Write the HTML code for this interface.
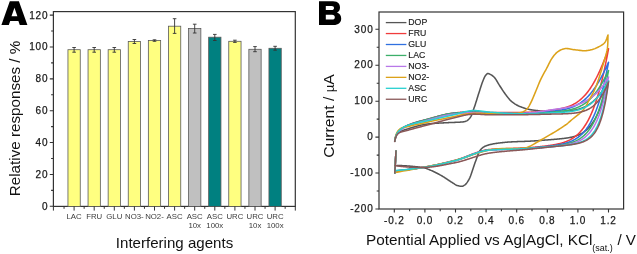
<!DOCTYPE html>
<html><head><meta charset="utf-8">
<style>
html,body{margin:0;padding:0;background:#fff;width:637px;height:254px;overflow:hidden}
svg{display:block;will-change:transform}
text{font-family:"Liberation Sans",sans-serif}
</style></head><body>
<svg width="637" height="254" viewBox="0 0 637 254">
<path d="M1.4,25 L9.8,1.2 L18.9,1.2 L27.4,25 L19.8,25 L18.4,21 L10.2,21 L8.8,25 Z M11.5,16.2 L17.4,16.2 L14.45,7.8 Z" fill="#000" fill-rule="evenodd"/>
<rect x="53.40" y="11.60" width="241.90" height="194.80" stroke="#333" stroke-width="1.2" fill="none"/>
<path d="M49.80,206.30H53.40 M49.80,174.43H53.40 M49.80,142.57H53.40 M49.80,110.70H53.40 M49.80,78.83H53.40 M49.80,46.97H53.40 M49.80,15.10H53.40 M51.10,190.37H53.40 M51.10,158.50H53.40 M51.10,126.63H53.40 M51.10,94.77H53.40 M51.10,62.90H53.40 M51.10,31.03H53.40 " stroke="#333" stroke-width="1.1"/>
<g font-size="10" fill="#1a1a1a" stroke="#1a1a1a" stroke-width="0.25" text-anchor="end">
<text transform="translate(48.2,209.70)" letter-spacing="0.75">0</text>
<text transform="translate(48.2,177.83)" letter-spacing="0.75">20</text>
<text transform="translate(48.2,145.97)" letter-spacing="0.75">40</text>
<text transform="translate(48.2,114.10)" letter-spacing="0.75">60</text>
<text transform="translate(48.2,82.23)" letter-spacing="0.75">80</text>
<text transform="translate(48.2,50.37)" letter-spacing="0.75">100</text>
<text transform="translate(48.2,18.50)" letter-spacing="0.75">120</text>
</g>
<text transform="translate(19.5,118.5) rotate(-90) scale(0.987,1)" font-size="15.4" fill="#111" text-anchor="middle">Relative responses / %</text>
<text transform="translate(174.5,247.8) scale(0.98,1)" font-size="15.4" fill="#111" text-anchor="middle">Interfering agents</text>
<g stroke="#5a5a5a" stroke-width="0.8">
<rect x="67.95" y="49.70" width="12.30" height="156.70" fill="#FFFF80"/>
<rect x="88.05" y="49.70" width="12.30" height="156.70" fill="#FFFF80"/>
<rect x="108.15" y="49.70" width="12.30" height="156.70" fill="#FFFF80"/>
<rect x="128.25" y="41.50" width="12.30" height="164.90" fill="#FFFF80"/>
<rect x="148.35" y="40.50" width="12.30" height="165.90" fill="#FFFF80"/>
<rect x="168.45" y="26.20" width="12.30" height="180.20" fill="#FFFF80"/>
<rect x="188.55" y="28.50" width="12.30" height="177.90" fill="#C0C0C0"/>
<rect x="208.65" y="37.20" width="12.30" height="169.20" fill="#008080"/>
<rect x="228.75" y="41.30" width="12.30" height="165.10" fill="#FFFF80"/>
<rect x="248.85" y="49.30" width="12.30" height="157.10" fill="#C0C0C0"/>
<rect x="268.95" y="48.30" width="12.30" height="158.10" fill="#008080"/>
</g>
<path d="M74.10,47.50V52.20 M72.30,47.50H75.90 M72.30,52.20H75.90 M94.20,47.50V52.20 M92.40,47.50H96.00 M92.40,52.20H96.00 M114.30,47.50V52.20 M112.50,47.50H116.10 M112.50,52.20H116.10 M134.40,39.50V43.50 M132.60,39.50H136.20 M132.60,43.50H136.20 M154.50,39.80V41.30 M152.70,39.80H156.30 M152.70,41.30H156.30 M174.60,18.70V33.40 M172.80,18.70H176.40 M172.80,33.40H176.40 M194.70,24.20V33.00 M192.90,24.20H196.50 M192.90,33.00H196.50 M214.80,34.40V40.50 M213.00,34.40H216.60 M213.00,40.50H216.60 M234.90,40.20V42.40 M233.10,40.20H236.70 M233.10,42.40H236.70 M255.00,46.60V51.70 M253.20,46.60H256.80 M253.20,51.70H256.80 M275.10,46.30V50.20 M273.30,46.30H276.90 M273.30,50.20H276.90 " stroke="#333" stroke-width="0.9" fill="none"/>
<path d="M74.10,206.40V210.60 M94.20,206.40V210.60 M114.30,206.40V210.60 M134.40,206.40V210.60 M154.50,206.40V210.60 M174.60,206.40V210.60 M194.70,206.40V210.60 M214.80,206.40V210.60 M234.90,206.40V210.60 M255.00,206.40V210.60 M275.10,206.40V210.60 M64.05,206.40V208.80 M84.15,206.40V208.80 M104.25,206.40V208.80 M124.35,206.40V208.80 M144.45,206.40V208.80 M164.55,206.40V208.80 M184.65,206.40V208.80 M204.75,206.40V208.80 M224.85,206.40V208.80 M244.95,206.40V208.80 M265.05,206.40V208.80 M285.15,206.40V208.80 M53.40,206.40V210.60 M295.30,206.40V210.60 " stroke="#333" stroke-width="1"/>
<g font-size="7.8" fill="#3a3a3a" text-anchor="middle">
<text x="74.10" y="218.9">LAC</text>
<text x="94.20" y="218.9">FRU</text>
<text x="114.30" y="218.9">GLU</text>
<text x="134.40" y="218.9">NO3-</text>
<text x="154.50" y="218.9">NO2-</text>
<text x="174.60" y="218.9">ASC</text>
<text x="194.70" y="218.9">ASC</text>
<text x="194.70" y="228.3">10x</text>
<text x="214.80" y="218.9">ASC</text>
<text x="214.80" y="228.3">100x</text>
<text x="234.90" y="218.9">URC</text>
<text x="255.00" y="218.9">URC</text>
<text x="255.00" y="228.3">10x</text>
<text x="275.10" y="218.9">URC</text>
<text x="275.10" y="228.3">100x</text>
</g>
<path d="M319,1.2 H333 C338.5,1.2 340,4.5 340,7.5 C340,10 338.8,11.8 337,12.6 C339.8,13.4 341.2,15.8 341.2,18.5 C341.2,22.5 338.5,25 333.5,25 H319 Z M325.8,5.9 V10.1 H331.5 C333.3,10.1 334,9.2 334,8 C334,6.8 333.3,5.9 331.5,5.9 Z M325.8,14.8 V19.6 H332 C334,19.6 334.8,18.5 334.8,17.2 C334.8,15.9 334,14.8 332,14.8 Z" fill="#000" fill-rule="evenodd"/>
<rect x="379.00" y="12.00" width="244.60" height="197.00" stroke="#333" stroke-width="1.2" fill="none"/>
<path d="M375.40,209.00H379.00 M375.40,173.06H379.00 M375.40,137.12H379.00 M375.40,101.18H379.00 M375.40,65.24H379.00 M375.40,29.30H379.00 M376.70,191.03H379.00 M376.70,155.09H379.00 M376.70,119.15H379.00 M376.70,83.21H379.00 M376.70,47.27H379.00 M394.30,209.00V212.50 M424.90,209.00V212.50 M455.50,209.00V212.50 M486.10,209.00V212.50 M516.70,209.00V212.50 M547.30,209.00V212.50 M577.90,209.00V212.50 M608.50,209.00V212.50 M409.60,209.00V211.30 M440.20,209.00V211.30 M470.80,209.00V211.30 M501.40,209.00V211.30 M532.00,209.00V211.30 M562.60,209.00V211.30 M593.20,209.00V211.30 " stroke="#333" stroke-width="1.1"/>
<g font-size="10" fill="#1a1a1a" stroke="#1a1a1a" stroke-width="0.25" text-anchor="end">
<text transform="translate(373.6,212.20)" letter-spacing="0.85">-200</text>
<text transform="translate(373.6,176.26)" letter-spacing="0.85">-100</text>
<text transform="translate(373.6,140.32)" letter-spacing="0.85">0</text>
<text transform="translate(373.6,104.38)" letter-spacing="0.85">100</text>
<text transform="translate(373.6,68.44)" letter-spacing="0.85">200</text>
<text transform="translate(373.6,32.50)" letter-spacing="0.85">300</text>
</g>
<g font-size="10" fill="#1a1a1a" stroke="#1a1a1a" stroke-width="0.25" text-anchor="middle">
<text transform="translate(394.30,223.7)" letter-spacing="0.8">-0.2</text>
<text transform="translate(424.90,223.7)" letter-spacing="0.8">0.0</text>
<text transform="translate(455.50,223.7)" letter-spacing="0.8">0.2</text>
<text transform="translate(486.10,223.7)" letter-spacing="0.8">0.4</text>
<text transform="translate(516.70,223.7)" letter-spacing="0.8">0.6</text>
<text transform="translate(547.30,223.7)" letter-spacing="0.8">0.8</text>
<text transform="translate(577.90,223.7)" letter-spacing="0.8">1.0</text>
<text transform="translate(608.50,223.7)" letter-spacing="0.8">1.2</text>
</g>
<text transform="translate(334.3,116.0) rotate(-90) scale(1.02,1)" font-size="15.4" fill="#111" text-anchor="middle">Current / <tspan font-size="13">µ</tspan>A</text>
<text transform="translate(366,244.9) scale(0.996,1)" font-size="15.4" fill="#111">Potential Applied vs Ag|AgCl, KCl</text>
<text x="592.3" y="251" font-size="9" fill="#111">(sat.)</text>
<text transform="translate(617.4,244.9) scale(0.985,1)" font-size="15.4" fill="#111">/ V</text>
<path d="M396.00,151.00L394.80,173.00M395.00,165.50L395.50,165.50L396.00,165.50L396.50,165.51L397.00,165.51L397.50,165.52L398.00,165.53L398.50,165.54L399.00,165.55L399.50,165.56L400.00,165.57L400.50,165.59L401.00,165.61L401.50,165.62L402.00,165.64L402.50,165.66L403.00,165.69L403.50,165.71L404.00,165.73L404.50,165.76L405.00,165.79L405.50,165.82L406.00,165.85L406.50,165.88L407.00,165.91L407.50,165.94L408.00,165.98L408.50,166.02L409.00,166.05L409.50,166.09L410.00,166.13L410.50,166.17L411.00,166.22L411.50,166.26L412.00,166.31L412.50,166.35L413.00,166.40L413.50,166.45L414.00,166.50L414.50,166.55L415.00,166.60L415.50,166.65L416.00,166.70L416.50,166.76L417.00,166.82L417.50,166.87L418.00,166.93L418.50,166.99L419.00,167.05L419.50,167.11L420.00,167.17L420.50,167.24L421.00,167.30L421.50,167.37L422.00,167.43L422.50,167.50L423.00,167.58L423.50,167.67L424.00,167.79L424.50,167.92L425.00,168.06L425.50,168.22L426.00,168.39L426.50,168.57L427.00,168.76L427.50,168.95L428.00,169.15L428.50,169.35L429.00,169.56L429.50,169.77L430.00,169.97L430.50,170.18L431.00,170.38L431.50,170.59L432.00,170.80L432.50,171.02L433.00,171.24L433.50,171.47L434.00,171.71L434.50,171.95L435.00,172.19L435.50,172.44L436.00,172.70L436.50,172.96L437.00,173.22L437.50,173.48L438.00,173.75L438.50,174.02L439.00,174.29L439.50,174.57L440.00,174.85L440.50,175.12L441.00,175.41L441.50,175.69L442.00,175.97L442.50,176.26L443.00,176.56L443.50,176.87L444.00,177.18L444.50,177.50L445.00,177.83L445.50,178.15L446.00,178.48L446.50,178.82L447.00,179.15L447.50,179.49L448.00,179.83L448.50,180.17L449.00,180.50L449.50,180.84L450.00,181.17L450.50,181.49L451.00,181.82L451.50,182.14L452.00,182.45L452.50,182.76L453.00,183.06L453.50,183.37L454.00,183.70L454.50,184.04L455.00,184.37L455.50,184.68L456.00,184.97L456.50,185.23L457.00,185.44L457.50,185.60L458.00,185.73L458.50,185.85L459.00,185.96L459.50,186.07L460.00,186.15L460.50,186.22L461.00,186.27L461.50,186.30L462.00,186.28L462.50,186.18L463.00,185.99L463.50,185.75L464.00,185.45L464.50,185.13L465.00,184.80L465.50,184.41L466.00,183.91L466.50,183.32L467.00,182.65L467.50,181.91L468.00,181.11L468.50,180.27L469.00,179.40L469.50,178.44L470.00,177.33L470.50,176.10L471.00,174.77L471.50,173.35L472.00,171.87L472.50,170.35L473.00,168.81L473.50,167.26L474.00,165.74L474.50,164.26L475.00,162.84L475.50,161.50L476.00,160.17L476.50,158.78L477.00,157.37L477.50,155.98L478.00,154.63L478.50,153.38L479.00,152.25L479.50,151.28L480.00,150.50L480.50,149.86L481.00,149.27L481.50,148.74L482.00,148.26L482.50,147.82L483.00,147.43L483.50,147.09L484.00,146.80L484.50,146.54L485.00,146.29L485.50,146.07L486.00,145.86L486.50,145.66L487.00,145.47L487.50,145.30L488.00,145.14L488.50,144.99L489.00,144.85L489.50,144.72L490.00,144.60L490.50,144.48L491.00,144.37L491.50,144.26L492.00,144.16L492.50,144.05L493.00,143.96L493.50,143.86L494.00,143.77L494.50,143.69L495.00,143.60L495.50,143.52L496.00,143.44L496.50,143.37L497.00,143.30L497.50,143.23L498.00,143.16L498.50,143.09L499.00,143.02L499.50,142.96L500.00,142.90L500.50,142.84L501.00,142.78L501.50,142.72L502.00,142.66L502.50,142.61L503.00,142.55L503.50,142.50L504.00,142.45L504.50,142.40L505.00,142.35L505.50,142.30L506.00,142.26L506.50,142.21L507.00,142.17L507.50,142.13L508.00,142.09L508.50,142.06L509.00,142.03L509.50,141.99L510.00,141.96L510.50,141.94L511.00,141.91L511.50,141.88L512.00,141.86L512.50,141.83L513.00,141.81L513.50,141.78L514.00,141.76L514.50,141.74L515.00,141.72L515.50,141.70L516.00,141.68L516.50,141.66L517.00,141.64L517.50,141.62L518.00,141.60L518.50,141.58L519.00,141.57L519.50,141.55L520.00,141.53L520.50,141.52L521.00,141.50L521.50,141.48L522.00,141.46L522.50,141.45L523.00,141.43L523.50,141.41L524.00,141.40L524.50,141.38L525.00,141.36L525.50,141.34L526.00,141.32L526.50,141.30L527.00,141.28L527.50,141.26L528.00,141.24L528.50,141.22L529.00,141.20L529.50,141.17L530.00,141.15L530.50,141.12L531.00,141.10L531.50,141.07L532.00,141.04L532.50,141.01L533.00,140.99L533.50,140.95L534.00,140.92L534.50,140.89L535.00,140.86L535.50,140.83L536.00,140.79L536.50,140.76L537.00,140.72L537.50,140.69L538.00,140.65L538.50,140.61L539.00,140.58L539.50,140.54L540.00,140.50L540.50,140.46L541.00,140.42L541.50,140.38L542.00,140.34L542.50,140.30L543.00,140.26L543.50,140.22L544.00,140.18L544.50,140.14L545.00,140.10L545.50,140.06L546.00,140.02L546.50,139.98L547.00,139.94L547.50,139.90L548.00,139.86L548.50,139.81L549.00,139.77L549.50,139.73L550.00,139.69L550.50,139.65L551.00,139.61L551.50,139.57L552.00,139.53L552.50,139.49L553.00,139.45L553.50,139.41L554.00,139.37L554.50,139.33L555.00,139.29L555.50,139.24L556.00,139.20L556.50,139.16L557.00,139.11L557.50,139.07L558.00,139.02L558.50,138.98L559.00,138.93L559.50,138.88L560.00,138.83L560.50,138.78L561.00,138.73L561.50,138.68L562.00,138.63L562.50,138.57L563.00,138.52L563.50,138.46L564.00,138.40L564.50,138.34L565.00,138.28L565.50,138.21L566.00,138.14L566.50,138.07L567.00,138.00L567.50,137.92L568.00,137.84L568.50,137.76L569.00,137.67L569.50,137.58L570.00,137.48L570.50,137.38L571.00,137.28L571.50,137.17L572.00,137.05L572.50,136.93L573.00,136.81L573.50,136.68L574.00,136.54L574.50,136.39L575.00,136.24L575.50,136.08L576.00,135.92L576.50,135.75L577.00,135.56L577.50,135.37L578.00,135.17L578.50,134.96L579.00,134.74L579.50,134.51L580.00,134.27L580.50,134.02L581.00,133.75L581.50,133.48L582.00,133.19L582.50,132.88L583.00,132.57L583.50,132.23L584.00,131.89L584.50,131.52L585.00,131.14L585.50,130.75L586.00,130.33L586.50,129.90L587.00,129.45L587.50,128.97L588.00,128.48L588.50,127.97L589.00,127.43L589.50,126.87L590.00,126.29L590.50,125.68L591.00,125.05L591.50,124.39L592.00,123.71L592.50,123.00L593.00,122.26L593.50,121.49L594.00,120.69L594.50,119.86L595.00,119.00L595.50,118.10L596.00,117.18L596.50,116.21L597.00,115.22L597.50,114.19L598.00,113.12L598.50,112.01L599.00,110.87L599.50,109.69L600.00,108.47L600.50,107.20L601.00,105.90L601.50,104.56L602.00,103.17L602.50,101.74L603.00,100.26L603.50,98.74L604.00,97.18L604.50,95.57L605.00,93.92L605.50,92.21L606.00,90.46L606.50,88.67L607.00,86.82L607.50,84.93L608.00,82.99L608.50,81.00M608.20,81.54L607.70,82.44L607.20,83.32L606.70,84.18L606.20,85.03L605.70,85.86L605.20,86.67L604.70,87.47L604.20,88.24L603.70,89.01L603.20,89.75L602.70,90.48L602.20,91.20L601.70,91.89L601.20,92.57L600.70,93.23L600.20,93.88L599.70,94.51L599.20,95.13L598.70,95.73L598.20,96.31L597.70,96.88L597.20,97.43L596.70,97.97L596.20,98.49L595.70,99.00L595.20,99.49L594.70,99.97L594.20,100.43L593.70,100.88L593.20,101.32L592.70,101.74L592.20,102.15L591.70,102.54L591.20,102.93L590.70,103.30L590.20,103.66L589.70,104.01L589.20,104.34L588.70,104.66L588.20,104.98L587.70,105.28L587.20,105.57L586.70,105.85L586.20,106.12L585.70,106.38L585.20,106.63L584.70,106.87L584.20,107.10L583.70,107.33L583.20,107.54L582.70,107.75L582.20,107.95L581.70,108.14L581.20,108.32L580.70,108.50L580.20,108.66L579.70,108.83L579.20,108.98L578.70,109.13L578.20,109.27L577.70,109.40L577.20,109.53L576.70,109.66L576.20,109.78L575.70,109.89L575.20,110.00L574.70,110.10L574.20,110.20L573.70,110.29L573.20,110.38L572.70,110.47L572.20,110.55L571.70,110.63L571.20,110.70L570.70,110.77L570.20,110.84L569.70,110.90L569.20,110.96L568.70,111.02L568.20,111.08L567.70,111.13L567.20,111.18L566.70,111.22L566.20,111.27L565.70,111.31L565.20,111.35L564.70,111.39L564.20,111.42L563.70,111.45L563.20,111.48L562.70,111.51L562.20,111.53L561.70,111.55L561.20,111.57L560.70,111.58L560.20,111.59L559.70,111.61L559.20,111.61L558.70,111.62L558.20,111.62L557.70,111.63L557.20,111.63L556.70,111.63L556.20,111.63L555.70,111.62L555.20,111.62L554.70,111.61L554.20,111.61L553.70,111.60L553.20,111.59L552.70,111.58L552.20,111.57L551.70,111.55L551.20,111.54L550.70,111.53L550.20,111.52L549.70,111.50L549.20,111.49L548.70,111.47L548.20,111.45L547.70,111.43L547.20,111.40L546.70,111.38L546.20,111.35L545.70,111.32L545.20,111.29L544.70,111.26L544.20,111.23L543.70,111.19L543.20,111.15L542.70,111.12L542.20,111.07L541.70,111.03L541.20,110.99L540.70,110.94L540.20,110.90L539.70,110.85L539.20,110.80L538.70,110.75L538.20,110.70L537.70,110.64L537.20,110.59L536.70,110.53L536.20,110.47L535.70,110.41L535.20,110.35L534.70,110.28L534.20,110.22L533.70,110.15L533.20,110.08L532.70,110.01L532.20,109.94L531.70,109.87L531.20,109.80L530.70,109.72L530.20,109.63L529.70,109.54L529.20,109.44L528.70,109.33L528.20,109.22L527.70,109.10L527.20,108.97L526.70,108.84L526.20,108.70L525.70,108.55L525.20,108.40L524.70,108.25L524.20,108.08L523.70,107.92L523.20,107.75L522.70,107.57L522.20,107.39L521.70,107.20L521.20,107.01L520.70,106.82L520.20,106.62L519.70,106.42L519.20,106.22L518.70,106.00L518.20,105.77L517.70,105.52L517.20,105.26L516.70,104.99L516.20,104.71L515.70,104.41L515.20,104.10L514.70,103.78L514.20,103.44L513.70,103.09L513.20,102.73L512.70,102.35L512.20,101.96L511.70,101.56L511.20,101.14L510.70,100.68L510.20,100.19L509.70,99.65L509.20,99.08L508.70,98.49L508.20,97.88L507.70,97.25L507.20,96.60L506.70,95.95L506.20,95.29L505.70,94.63L505.20,93.97L504.70,93.28L504.20,92.56L503.70,91.83L503.20,91.08L502.70,90.32L502.20,89.55L501.70,88.77L501.20,88.00L500.70,87.22L500.20,86.46L499.70,85.70L499.20,84.93L498.70,84.11L498.20,83.28L497.70,82.43L497.20,81.58L496.70,80.74L496.20,79.93L495.70,79.16L495.20,78.44L494.70,77.78L494.20,77.20L493.70,76.71L493.20,76.27L492.70,75.87L492.20,75.51L491.70,75.17L491.20,74.87L490.70,74.60L490.20,74.35L489.70,74.09L489.20,73.84L488.70,73.64L488.20,73.52L487.70,73.52L487.20,73.74L486.70,74.14L486.20,74.67L485.70,75.26L485.20,75.91L484.70,76.78L484.20,77.83L483.70,79.00L483.20,80.21L482.70,81.45L482.20,82.79L481.70,84.23L481.20,85.73L480.70,87.28L480.20,88.84L479.70,90.39L479.20,91.92L478.70,93.48L478.20,95.07L477.70,96.68L477.20,98.30L476.70,99.91L476.20,101.52L475.70,103.10L475.20,104.65L474.70,106.15L474.20,107.60L473.70,109.06L473.20,110.57L472.70,112.08L472.20,113.52L471.70,114.83L471.20,115.96L470.70,116.86L470.20,117.54L469.70,118.18L469.20,118.77L468.70,119.31L468.20,119.80L467.70,120.23L467.20,120.60L466.70,120.90L466.20,121.13L465.70,121.29L465.20,121.44L464.70,121.57L464.20,121.68L463.70,121.78L463.20,121.86L462.70,121.93L462.20,121.98L461.70,122.02L461.20,122.06L460.70,122.10L460.20,122.13L459.70,122.16L459.20,122.19L458.70,122.22L458.20,122.24L457.70,122.27L457.20,122.29L456.70,122.31L456.20,122.33L455.70,122.35L455.20,122.36L454.70,122.38L454.20,122.40L453.70,122.41L453.20,122.43L452.70,122.45L452.20,122.46L451.70,122.48L451.20,122.50L450.70,122.52L450.20,122.54L449.70,122.57L449.20,122.59L448.70,122.62L448.20,122.64L447.70,122.67L447.20,122.69L446.70,122.72L446.20,122.74L445.70,122.77L445.20,122.79L444.70,122.81L444.20,122.84L443.70,122.86L443.20,122.89L442.70,122.91L442.20,122.94L441.70,122.96L441.20,122.99L440.70,123.01L440.20,123.04L439.70,123.07L439.20,123.09L438.70,123.12L438.20,123.15L437.70,123.18L437.20,123.21L436.70,123.24L436.20,123.27L435.70,123.30L435.20,123.33L434.70,123.37L434.20,123.40L433.70,123.44L433.20,123.48L432.70,123.51L432.20,123.55L431.70,123.59L431.20,123.64L430.70,123.68L430.20,123.73L429.70,123.77L429.20,123.82L428.70,123.87L428.20,123.93L427.70,123.99L427.20,124.05L426.70,124.12L426.20,124.19L425.70,124.27L425.20,124.35L424.70,124.43L424.20,124.52L423.70,124.61L423.20,124.70L422.70,124.80L422.20,124.90L421.70,125.00L421.20,125.11L420.70,125.22L420.20,125.33L419.70,125.44L419.20,125.56L418.70,125.68L418.20,125.81L417.70,125.93L417.20,126.06L416.70,126.19L416.20,126.32L415.70,126.46L415.20,126.60L414.70,126.74L414.20,126.88L413.70,127.02L413.20,127.17L412.70,127.32L412.20,127.47L411.70,127.62L411.20,127.77L410.70,127.92L410.20,128.08L409.70,128.24L409.20,128.40L408.70,128.56L408.20,128.72L407.70,128.88L407.20,129.04L406.70,129.20L406.20,129.37L405.70,129.53L405.20,129.70L404.70,129.85L404.20,130.01L403.70,130.18L403.20,130.34L402.70,130.52L402.20,130.70L401.70,130.90L401.20,131.11L400.70,131.34L400.20,131.59L399.70,131.87L399.20,132.16L398.70,132.49L398.20,132.85L397.70,133.26L397.20,133.85L396.70,134.61L396.20,135.56L395.70,136.84L395.20,138.81L394.70,141.20" stroke="#555555" stroke-width="1.55" fill="none" stroke-linejoin="round" stroke-linecap="round"/>
<path d="M396.00,151.00L394.80,173.00M394.90,171.00L395.40,170.95L395.90,170.91L396.40,170.86L396.90,170.81L397.40,170.76L397.90,170.71L398.40,170.66L398.90,170.61L399.40,170.56L399.90,170.51L400.40,170.45L400.90,170.40L401.40,170.34L401.90,170.29L402.40,170.23L402.90,170.17L403.40,170.11L403.90,170.05L404.40,169.99L404.90,169.93L405.40,169.87L405.90,169.81L406.40,169.75L406.90,169.68L407.40,169.62L407.90,169.55L408.40,169.49L408.90,169.42L409.40,169.36L409.90,169.29L410.40,169.22L410.90,169.15L411.40,169.08L411.90,169.01L412.40,168.94L412.90,168.87L413.40,168.80L413.90,168.73L414.40,168.65L414.90,168.58L415.40,168.51L415.90,168.43L416.40,168.36L416.90,168.28L417.40,168.21L417.90,168.13L418.40,168.05L418.90,167.97L419.40,167.90L419.90,167.82L420.40,167.74L420.90,167.66L421.40,167.58L421.90,167.50L422.40,167.42L422.90,167.34L423.40,167.25L423.90,167.17L424.40,167.09L424.90,167.00L425.40,166.91L425.90,166.83L426.40,166.74L426.90,166.65L427.40,166.56L427.90,166.46L428.40,166.37L428.90,166.28L429.40,166.18L429.90,166.08L430.40,165.99L430.90,165.89L431.40,165.79L431.90,165.69L432.40,165.59L432.90,165.49L433.40,165.39L433.90,165.28L434.40,165.18L434.90,165.07L435.40,164.97L435.90,164.86L436.40,164.75L436.90,164.64L437.40,164.54L437.90,164.43L438.40,164.32L438.90,164.20L439.40,164.09L439.90,163.98L440.40,163.87L440.90,163.75L441.40,163.64L441.90,163.52L442.40,163.41L442.90,163.29L443.40,163.17L443.90,163.05L444.40,162.94L444.90,162.82L445.40,162.70L445.90,162.58L446.40,162.46L446.90,162.34L447.40,162.21L447.90,162.09L448.40,161.97L448.90,161.85L449.40,161.72L449.90,161.60L450.40,161.48L450.90,161.35L451.40,161.23L451.90,161.10L452.40,160.98L452.90,160.85L453.40,160.72L453.90,160.60L454.40,160.47L454.90,160.34L455.40,160.21L455.90,160.07L456.40,159.93L456.90,159.79L457.40,159.64L457.90,159.49L458.40,159.33L458.90,159.17L459.40,159.01L459.90,158.84L460.40,158.67L460.90,158.50L461.40,158.32L461.90,158.14L462.40,157.96L462.90,157.78L463.40,157.60L463.90,157.41L464.40,157.22L464.90,157.04L465.40,156.84L465.90,156.65L466.40,156.46L466.90,156.27L467.40,156.07L467.90,155.88L468.40,155.68L468.90,155.49L469.40,155.30L469.90,155.10L470.40,154.91L470.90,154.71L471.40,154.52L471.90,154.33L472.40,154.14L472.90,153.95L473.40,153.76L473.90,153.57L474.40,153.39L474.90,153.21L475.40,153.03L475.90,152.85L476.40,152.67L476.90,152.50L477.40,152.33L477.90,152.16L478.40,152.00L478.90,151.84L479.40,151.68L479.90,151.52L480.40,151.37L480.90,151.23L481.40,151.09L481.90,150.95L482.40,150.82L482.90,150.69L483.40,150.56L483.90,150.45L484.40,150.33L484.90,150.22L485.40,150.12L485.90,150.03L486.40,149.93L486.90,149.85L487.40,149.77L487.90,149.70L488.40,149.63L488.90,149.58L489.40,149.52L489.90,149.48L490.40,149.44L490.90,149.40L491.40,149.36L491.90,149.33L492.40,149.29L492.90,149.26L493.40,149.23L493.90,149.19L494.40,149.16L494.90,149.13L495.40,149.10L495.90,149.07L496.40,149.05L496.90,149.02L497.40,148.99L497.90,148.97L498.40,148.94L498.90,148.92L499.40,148.89L499.90,148.87L500.40,148.85L500.90,148.83L501.40,148.80L501.90,148.78L502.40,148.76L502.90,148.74L503.40,148.72L503.90,148.70L504.40,148.69L504.90,148.67L505.40,148.65L505.90,148.63L506.40,148.61L506.90,148.60L507.40,148.58L507.90,148.56L508.40,148.55L508.90,148.53L509.40,148.51L509.90,148.50L510.40,148.48L510.90,148.47L511.40,148.45L511.90,148.43L512.40,148.42L512.90,148.40L513.40,148.38L513.90,148.37L514.40,148.35L514.90,148.34L515.40,148.32L515.90,148.30L516.40,148.28L516.90,148.27L517.40,148.25L517.90,148.23L518.40,148.21L518.90,148.19L519.40,148.17L519.90,148.15L520.40,148.13L520.90,148.11L521.40,148.09L521.90,148.07L522.40,148.05L522.90,148.02L523.40,148.00L523.90,147.97L524.40,147.95L524.90,147.92L525.40,147.90L525.90,147.87L526.40,147.84L526.90,147.81L527.40,147.78L527.90,147.75L528.40,147.72L528.90,147.68L529.40,147.65L529.90,147.61L530.40,147.57L530.90,147.53L531.40,147.49L531.90,147.45L532.40,147.40L532.90,147.36L533.40,147.31L533.90,147.26L534.40,147.21L534.90,147.16L535.40,147.11L535.90,147.06L536.40,147.01L536.90,146.96L537.40,146.91L537.90,146.86L538.40,146.81L538.90,146.75L539.40,146.70L539.90,146.65L540.40,146.60L540.90,146.55L541.40,146.49L541.90,146.44L542.40,146.39L542.90,146.33L543.40,146.27L543.90,146.21L544.40,146.16L544.90,146.10L545.40,146.04L545.90,145.97L546.40,145.91L546.90,145.85L547.40,145.78L547.90,145.71L548.40,145.64L548.90,145.58L549.40,145.50L549.90,145.43L550.40,145.36L550.90,145.28L551.40,145.20L551.90,145.12L552.40,145.04L552.90,144.96L553.40,144.87L553.90,144.79L554.40,144.70L554.90,144.60L555.40,144.51L555.90,144.41L556.40,144.31L556.90,144.21L557.40,144.10L557.90,143.99L558.40,143.88L558.90,143.76L559.40,143.64L559.90,143.52L560.40,143.39L560.90,143.26L561.40,143.13L561.90,142.98L562.40,142.84L562.90,142.69L563.40,142.53L563.90,142.37L564.40,142.20L564.90,142.02L565.40,141.84L565.90,141.65L566.40,141.46L566.90,141.25L567.40,141.04L567.90,140.83L568.40,140.60L568.90,140.36L569.40,140.12L569.90,139.87L570.40,139.60L570.90,139.33L571.40,139.05L571.90,138.75L572.40,138.45L572.90,138.13L573.40,137.80L573.90,137.46L574.40,137.11L574.90,136.74L575.40,136.36L575.90,135.96L576.40,135.55L576.90,135.13L577.40,134.69L577.90,134.23L578.40,133.76L578.90,133.26L579.40,132.76L579.90,132.23L580.40,131.68L580.90,131.11L581.40,130.53L581.90,129.92L582.40,129.29L582.90,128.64L583.40,127.97L583.90,127.27L584.40,126.55L584.90,125.80L585.40,125.03L585.90,124.24L586.40,123.41L586.90,122.56L587.40,121.68L587.90,120.77L588.40,119.83L588.90,118.87L589.40,117.87L589.90,116.83L590.40,115.77L590.90,114.67L591.40,113.54L591.90,112.37L592.40,111.17L592.90,109.93L593.40,108.66L593.90,107.34L594.40,105.99L594.90,104.60L595.40,103.16L595.90,101.69L596.40,100.17L596.90,98.61L597.40,97.01L597.90,95.36L598.40,93.67L598.90,91.93L599.40,90.15L599.90,88.32L600.40,86.44L600.90,84.51L601.40,82.54L601.90,80.51L602.40,78.43L602.90,76.31L603.40,74.13L603.90,71.89L604.40,69.61L604.90,67.27L605.40,64.87L605.90,62.43L606.40,59.92L606.90,57.37L607.40,54.75L607.90,52.08L608.40,49.35L608.50,48.80M608.50,48.80L608.20,49.63L607.70,51.02L607.20,52.38L606.70,53.74L606.20,55.08L605.70,56.40L605.20,57.71L604.70,59.00L604.20,60.28L603.70,61.54L603.20,62.78L602.70,64.01L602.20,65.21L601.70,66.40L601.20,67.57L600.70,68.73L600.20,69.86L599.70,70.98L599.20,72.07L598.70,73.15L598.20,74.21L597.70,75.24L597.20,76.26L596.70,77.26L596.20,78.24L595.70,79.20L595.20,80.14L594.70,81.06L594.20,81.96L593.70,82.84L593.20,83.70L592.70,84.54L592.20,85.36L591.70,86.17L591.20,86.95L590.70,87.72L590.20,88.46L589.70,89.19L589.20,89.90L588.70,90.59L588.20,91.27L587.70,91.92L587.20,92.56L586.70,93.18L586.20,93.79L585.70,94.37L585.20,94.94L584.70,95.50L584.20,96.04L583.70,96.56L583.20,97.07L582.70,97.56L582.20,98.04L581.70,98.50L581.20,98.95L580.70,99.39L580.20,99.81L579.70,100.22L579.20,100.61L578.70,101.00L578.20,101.37L577.70,101.73L577.20,102.07L576.70,102.41L576.20,102.73L575.70,103.05L575.20,103.35L574.70,103.64L574.20,103.92L573.70,104.19L573.20,104.46L572.70,104.71L572.20,104.96L571.70,105.19L571.20,105.42L570.70,105.64L570.20,105.85L569.70,106.06L569.20,106.25L568.70,106.44L568.20,106.63L567.70,106.80L567.20,106.97L566.70,107.14L566.20,107.29L565.70,107.44L565.20,107.59L564.70,107.73L564.20,107.87L563.70,108.00L563.20,108.12L562.70,108.25L562.20,108.36L561.70,108.48L561.20,108.59L560.70,108.69L560.20,108.79L559.70,108.89L559.20,108.98L558.70,109.08L558.20,109.17L557.70,109.26L557.20,109.34L556.70,109.43L556.20,109.51L555.70,109.59L555.20,109.67L554.70,109.74L554.20,109.82L553.70,109.89L553.20,109.96L552.70,110.03L552.20,110.10L551.70,110.17L551.20,110.24L550.70,110.30L550.20,110.37L549.70,110.43L549.20,110.49L548.70,110.55L548.20,110.61L547.70,110.67L547.20,110.73L546.70,110.78L546.20,110.84L545.70,110.90L545.20,110.95L544.70,111.00L544.20,111.06L543.70,111.11L543.20,111.16L542.70,111.21L542.20,111.26L541.70,111.31L541.20,111.35L540.70,111.40L540.20,111.45L539.70,111.49L539.20,111.54L538.70,111.58L538.20,111.62L537.70,111.67L537.20,111.71L536.70,111.75L536.20,111.79L535.70,111.83L535.20,111.86L534.70,111.90L534.20,111.94L533.70,111.97L533.20,112.01L532.70,112.04L532.20,112.07L531.70,112.10L531.20,112.13L530.70,112.16L530.20,112.19L529.70,112.22L529.20,112.24L528.70,112.27L528.20,112.29L527.70,112.31L527.20,112.34L526.70,112.36L526.20,112.37L525.70,112.39L525.20,112.41L524.70,112.42L524.20,112.44L523.70,112.45L523.20,112.46L522.70,112.47L522.20,112.48L521.70,112.48L521.20,112.49L520.70,112.49L520.20,112.49L519.70,112.49L519.20,112.50L518.70,112.50L518.20,112.50L517.70,112.50L517.20,112.50L516.70,112.50L516.20,112.50L515.70,112.50L515.20,112.50L514.70,112.49L514.20,112.49L513.70,112.49L513.20,112.49L512.70,112.49L512.20,112.49L511.70,112.49L511.20,112.49L510.70,112.49L510.20,112.49L509.70,112.49L509.20,112.49L508.70,112.49L508.20,112.48L507.70,112.48L507.20,112.48L506.70,112.48L506.20,112.48L505.70,112.48L505.20,112.48L504.70,112.47L504.20,112.47L503.70,112.47L503.20,112.47L502.70,112.47L502.20,112.47L501.70,112.46L501.20,112.46L500.70,112.46L500.20,112.46L499.70,112.45L499.20,112.45L498.70,112.45L498.20,112.45L497.70,112.45L497.20,112.44L496.70,112.44L496.20,112.44L495.70,112.43L495.20,112.43L494.70,112.43L494.20,112.43L493.70,112.42L493.20,112.42L492.70,112.42L492.20,112.41L491.70,112.41L491.20,112.41L490.70,112.40L490.20,112.40L489.70,112.40L489.20,112.39L488.70,112.38L488.20,112.36L487.70,112.35L487.20,112.33L486.70,112.30L486.20,112.28L485.70,112.25L485.20,112.22L484.70,112.19L484.20,112.16L483.70,112.13L483.20,112.09L482.70,112.06L482.20,112.03L481.70,111.99L481.20,111.96L480.70,111.92L480.20,111.89L479.70,111.86L479.20,111.83L478.70,111.80L478.20,111.77L477.70,111.75L477.20,111.72L476.70,111.70L476.20,111.68L475.70,111.67L475.20,111.66L474.70,111.65L474.20,111.64L473.70,111.64L473.20,111.65L472.70,111.65L472.20,111.66L471.70,111.67L471.20,111.68L470.70,111.69L470.20,111.71L469.70,111.73L469.20,111.75L468.70,111.77L468.20,111.79L467.70,111.82L467.20,111.85L466.70,111.88L466.20,111.91L465.70,111.94L465.20,111.98L464.70,112.01L464.20,112.05L463.70,112.09L463.20,112.13L462.70,112.17L462.20,112.21L461.70,112.26L461.20,112.30L460.70,112.35L460.20,112.39L459.70,112.44L459.20,112.49L458.70,112.54L458.20,112.59L457.70,112.64L457.20,112.69L456.70,112.75L456.20,112.80L455.70,112.85L455.20,112.91L454.70,112.96L454.20,113.01L453.70,113.07L453.20,113.12L452.70,113.18L452.20,113.24L451.70,113.30L451.20,113.36L450.70,113.43L450.20,113.51L449.70,113.58L449.20,113.67L448.70,113.75L448.20,113.84L447.70,113.94L447.20,114.03L446.70,114.13L446.20,114.24L445.70,114.34L445.20,114.45L444.70,114.57L444.20,114.68L443.70,114.80L443.20,114.92L442.70,115.04L442.20,115.16L441.70,115.29L441.20,115.42L440.70,115.55L440.20,115.68L439.70,115.81L439.20,115.95L438.70,116.08L438.20,116.22L437.70,116.36L437.20,116.50L436.70,116.64L436.20,116.78L435.70,116.92L435.20,117.06L434.70,117.20L434.20,117.34L433.70,117.48L433.20,117.62L432.70,117.77L432.20,117.91L431.70,118.05L431.20,118.18L430.70,118.32L430.20,118.46L429.70,118.60L429.20,118.73L428.70,118.86L428.20,119.00L427.70,119.13L427.20,119.26L426.70,119.39L426.20,119.52L425.70,119.65L425.20,119.78L424.70,119.91L424.20,120.04L423.70,120.17L423.20,120.30L422.70,120.43L422.20,120.56L421.70,120.69L421.20,120.82L420.70,120.95L420.20,121.09L419.70,121.23L419.20,121.36L418.70,121.50L418.20,121.64L417.70,121.79L417.20,121.93L416.70,122.08L416.20,122.23L415.70,122.38L415.20,122.53L414.70,122.69L414.20,122.85L413.70,123.01L413.20,123.18L412.70,123.34L412.20,123.52L411.70,123.69L411.20,123.87L410.70,124.06L410.20,124.24L409.70,124.43L409.20,124.63L408.70,124.83L408.20,125.03L407.70,125.24L407.20,125.46L406.70,125.68L406.20,125.90L405.70,126.13L405.20,126.37L404.70,126.63L404.20,126.90L403.70,127.19L403.20,127.49L402.70,127.81L402.20,128.16L401.70,128.52L401.20,128.90L400.70,129.30L400.20,129.72L399.70,130.17L399.20,130.64L398.70,131.17L398.20,131.77L397.70,132.46L397.20,133.24L396.70,134.15L396.20,135.29L395.70,136.72L395.20,138.65L394.70,141.22" stroke="#F03C3C" stroke-width="1.55" fill="none" stroke-linejoin="round" stroke-linecap="round"/>
<path d="M396.00,151.00L394.80,173.00M394.90,171.00L395.40,170.96L395.90,170.91L396.40,170.87L396.90,170.82L397.40,170.77L397.90,170.72L398.40,170.68L398.90,170.63L399.40,170.58L399.90,170.52L400.40,170.47L400.90,170.42L401.40,170.37L401.90,170.31L402.40,170.26L402.90,170.20L403.40,170.14L403.90,170.09L404.40,170.03L404.90,169.97L405.40,169.91L405.90,169.85L406.40,169.79L406.90,169.73L407.40,169.66L407.90,169.60L408.40,169.54L408.90,169.47L409.40,169.41L409.90,169.34L410.40,169.27L410.90,169.21L411.40,169.14L411.90,169.07L412.40,169.00L412.90,168.93L413.40,168.86L413.90,168.79L414.40,168.72L414.90,168.65L415.40,168.58L415.90,168.51L416.40,168.43L416.90,168.36L417.40,168.28L417.90,168.21L418.40,168.13L418.90,168.06L419.40,167.98L419.90,167.91L420.40,167.83L420.90,167.75L421.40,167.67L421.90,167.59L422.40,167.52L422.90,167.44L423.40,167.36L423.90,167.27L424.40,167.19L424.90,167.11L425.40,167.02L425.90,166.94L426.40,166.85L426.90,166.76L427.40,166.67L427.90,166.58L428.40,166.49L428.90,166.40L429.40,166.30L429.90,166.21L430.40,166.11L430.90,166.02L431.40,165.92L431.90,165.82L432.40,165.72L432.90,165.62L433.40,165.52L433.90,165.42L434.40,165.32L434.90,165.21L435.40,165.11L435.90,165.01L436.40,164.90L436.90,164.79L437.40,164.69L437.90,164.58L438.40,164.47L438.90,164.36L439.40,164.25L439.90,164.14L440.40,164.03L440.90,163.91L441.40,163.80L441.90,163.69L442.40,163.57L442.90,163.46L443.40,163.34L443.90,163.23L444.40,163.11L444.90,162.99L445.40,162.87L445.90,162.76L446.40,162.64L446.90,162.52L447.40,162.40L447.90,162.28L448.40,162.16L448.90,162.04L449.40,161.91L449.90,161.79L450.40,161.67L450.90,161.55L451.40,161.42L451.90,161.30L452.40,161.17L452.90,161.05L453.40,160.93L453.90,160.80L454.40,160.68L454.90,160.55L455.40,160.42L455.90,160.28L456.40,160.15L456.90,160.00L457.40,159.86L457.90,159.70L458.40,159.55L458.90,159.39L459.40,159.23L459.90,159.06L460.40,158.90L460.90,158.72L461.40,158.55L461.90,158.37L462.40,158.20L462.90,158.02L463.40,157.83L463.90,157.65L464.40,157.46L464.90,157.27L465.40,157.09L465.90,156.90L466.40,156.70L466.90,156.51L467.40,156.32L467.90,156.13L468.40,155.93L468.90,155.74L469.40,155.55L469.90,155.35L470.40,155.16L470.90,154.97L471.40,154.78L471.90,154.59L472.40,154.40L472.90,154.21L473.40,154.02L473.90,153.84L474.40,153.66L474.90,153.47L475.40,153.29L475.90,153.12L476.40,152.94L476.90,152.77L477.40,152.60L477.90,152.44L478.40,152.28L478.90,152.12L479.40,151.96L479.90,151.81L480.40,151.66L480.90,151.52L481.40,151.38L481.90,151.24L482.40,151.11L482.90,150.98L483.40,150.86L483.90,150.75L484.40,150.63L484.90,150.53L485.40,150.43L485.90,150.33L486.40,150.25L486.90,150.16L487.40,150.09L487.90,150.02L488.40,149.95L488.90,149.90L489.40,149.85L489.90,149.81L490.40,149.77L490.90,149.74L491.40,149.70L491.90,149.67L492.40,149.63L492.90,149.60L493.40,149.57L493.90,149.54L494.40,149.51L494.90,149.48L495.40,149.46L495.90,149.43L496.40,149.40L496.90,149.38L497.40,149.35L497.90,149.33L498.40,149.31L498.90,149.29L499.40,149.26L499.90,149.24L500.40,149.22L500.90,149.20L501.40,149.18L501.90,149.16L502.40,149.14L502.90,149.13L503.40,149.11L503.90,149.09L504.40,149.07L504.90,149.06L505.40,149.04L505.90,149.02L506.40,149.01L506.90,148.99L507.40,148.98L507.90,148.96L508.40,148.95L508.90,148.93L509.40,148.92L509.90,148.90L510.40,148.89L510.90,148.87L511.40,148.86L511.90,148.84L512.40,148.83L512.90,148.81L513.40,148.80L513.90,148.78L514.40,148.77L514.90,148.75L515.40,148.74L515.90,148.72L516.40,148.71L516.90,148.69L517.40,148.67L517.90,148.66L518.40,148.64L518.90,148.62L519.40,148.60L519.90,148.59L520.40,148.57L520.90,148.55L521.40,148.53L521.90,148.51L522.40,148.49L522.90,148.47L523.40,148.44L523.90,148.42L524.40,148.40L524.90,148.37L525.40,148.35L525.90,148.32L526.40,148.30L526.90,148.27L527.40,148.24L527.90,148.21L528.40,148.18L528.90,148.15L529.40,148.12L529.90,148.08L530.40,148.05L530.90,148.01L531.40,147.97L531.90,147.93L532.40,147.88L532.90,147.84L533.40,147.80L533.90,147.75L534.40,147.71L534.90,147.66L535.40,147.61L535.90,147.56L536.40,147.52L536.90,147.47L537.40,147.42L537.90,147.37L538.40,147.32L538.90,147.28L539.40,147.23L539.90,147.18L540.40,147.13L540.90,147.09L541.40,147.04L541.90,146.99L542.40,146.94L542.90,146.89L543.40,146.84L543.90,146.79L544.40,146.74L544.90,146.69L545.40,146.64L545.90,146.58L546.40,146.53L546.90,146.47L547.40,146.42L547.90,146.36L548.40,146.30L548.90,146.24L549.40,146.18L549.90,146.12L550.40,146.06L550.90,146.00L551.40,145.93L551.90,145.86L552.40,145.80L552.90,145.73L553.40,145.66L553.90,145.59L554.40,145.51L554.90,145.44L555.40,145.36L555.90,145.28L556.40,145.20L556.90,145.12L557.40,145.04L557.90,144.95L558.40,144.86L558.90,144.77L559.40,144.68L559.90,144.58L560.40,144.48L560.90,144.38L561.40,144.27L561.90,144.16L562.40,144.05L562.90,143.93L563.40,143.81L563.90,143.68L564.40,143.55L564.90,143.42L565.40,143.28L565.90,143.13L566.40,142.98L566.90,142.83L567.40,142.67L567.90,142.50L568.40,142.33L568.90,142.15L569.40,141.96L569.90,141.77L570.40,141.57L570.90,141.36L571.40,141.14L571.90,140.92L572.40,140.68L572.90,140.44L573.40,140.19L573.90,139.93L574.40,139.66L574.90,139.38L575.40,139.08L575.90,138.78L576.40,138.47L576.90,138.14L577.40,137.80L577.90,137.45L578.40,137.08L578.90,136.70L579.40,136.31L579.90,135.90L580.40,135.47L580.90,135.03L581.40,134.58L581.90,134.10L582.40,133.61L582.90,133.10L583.40,132.57L583.90,132.02L584.40,131.45L584.90,130.86L585.40,130.25L585.90,129.61L586.40,128.96L586.90,128.27L587.40,127.57L587.90,126.84L588.40,126.08L588.90,125.29L589.40,124.48L589.90,123.64L590.40,122.77L590.90,121.87L591.40,120.93L591.90,119.97L592.40,118.97L592.90,117.94L593.40,116.87L593.90,115.77L594.40,114.62L594.90,113.44L595.40,112.23L595.90,110.97L596.40,109.67L596.90,108.32L597.40,106.94L597.90,105.51L598.40,104.03L598.90,102.50L599.40,100.93L599.90,99.31L600.40,97.64L600.90,95.91L601.40,94.13L601.90,92.30L602.40,90.41L602.90,88.47L603.40,86.47L603.90,84.40L604.40,82.28L604.90,80.09L605.40,77.84L605.90,75.53L606.40,73.15L606.90,70.70L607.40,68.19L607.90,65.60L608.40,62.94L608.50,62.40M608.50,62.40L608.20,63.06L607.70,64.16L607.20,65.25L606.70,66.33L606.20,67.39L605.70,68.45L605.20,69.49L604.70,70.52L604.20,71.53L603.70,72.54L603.20,73.53L602.70,74.50L602.20,75.46L601.70,76.41L601.20,77.34L600.70,78.26L600.20,79.16L599.70,80.05L599.20,80.92L598.70,81.78L598.20,82.62L597.70,83.45L597.20,84.26L596.70,85.05L596.20,85.83L595.70,86.59L595.20,87.34L594.70,88.07L594.20,88.79L593.70,89.49L593.20,90.18L592.70,90.85L592.20,91.50L591.70,92.14L591.20,92.77L590.70,93.38L590.20,93.97L589.70,94.55L589.20,95.12L588.70,95.67L588.20,96.21L587.70,96.73L587.20,97.24L586.70,97.73L586.20,98.21L585.70,98.68L585.20,99.14L584.70,99.58L584.20,100.01L583.70,100.43L583.20,100.83L582.70,101.23L582.20,101.61L581.70,101.98L581.20,102.34L580.70,102.68L580.20,103.02L579.70,103.35L579.20,103.66L578.70,103.97L578.20,104.26L577.70,104.55L577.20,104.83L576.70,105.10L576.20,105.35L575.70,105.60L575.20,105.85L574.70,106.08L574.20,106.31L573.70,106.52L573.20,106.73L572.70,106.94L572.20,107.13L571.70,107.32L571.20,107.51L570.70,107.68L570.20,107.85L569.70,108.02L569.20,108.17L568.70,108.33L568.20,108.47L567.70,108.61L567.20,108.75L566.70,108.88L566.20,109.01L565.70,109.13L565.20,109.25L564.70,109.36L564.20,109.47L563.70,109.58L563.20,109.68L562.70,109.78L562.20,109.87L561.70,109.96L561.20,110.05L560.70,110.14L560.20,110.22L559.70,110.30L559.20,110.38L558.70,110.45L558.20,110.52L557.70,110.60L557.20,110.67L556.70,110.74L556.20,110.80L555.70,110.87L555.20,110.93L554.70,111.00L554.20,111.06L553.70,111.12L553.20,111.18L552.70,111.24L552.20,111.30L551.70,111.35L551.20,111.41L550.70,111.46L550.20,111.52L549.70,111.57L549.20,111.62L548.70,111.67L548.20,111.73L547.70,111.78L547.20,111.82L546.70,111.87L546.20,111.92L545.70,111.97L545.20,112.01L544.70,112.06L544.20,112.11L543.70,112.15L543.20,112.19L542.70,112.24L542.20,112.28L541.70,112.32L541.20,112.36L540.70,112.40L540.20,112.44L539.70,112.48L539.20,112.52L538.70,112.56L538.20,112.60L537.70,112.63L537.20,112.67L536.70,112.70L536.20,112.74L535.70,112.77L535.20,112.81L534.70,112.84L534.20,112.87L533.70,112.90L533.20,112.93L532.70,112.96L532.20,112.99L531.70,113.01L531.20,113.04L530.70,113.07L530.20,113.09L529.70,113.12L529.20,113.14L528.70,113.16L528.20,113.18L527.70,113.20L527.20,113.22L526.70,113.24L526.20,113.25L525.70,113.27L525.20,113.28L524.70,113.30L524.20,113.31L523.70,113.32L523.20,113.33L522.70,113.34L522.20,113.34L521.70,113.35L521.20,113.35L520.70,113.36L520.20,113.36L519.70,113.36L519.20,113.36L518.70,113.36L518.20,113.36L517.70,113.36L517.20,113.36L516.70,113.35L516.20,113.35L515.70,113.35L515.20,113.35L514.70,113.34L514.20,113.34L513.70,113.33L513.20,113.33L512.70,113.33L512.20,113.32L511.70,113.32L511.20,113.31L510.70,113.30L510.20,113.30L509.70,113.29L509.20,113.28L508.70,113.28L508.20,113.27L507.70,113.26L507.20,113.26L506.70,113.25L506.20,113.24L505.70,113.23L505.20,113.22L504.70,113.21L504.20,113.20L503.70,113.19L503.20,113.18L502.70,113.17L502.20,113.16L501.70,113.15L501.20,113.14L500.70,113.13L500.20,113.12L499.70,113.11L499.20,113.10L498.70,113.09L498.20,113.08L497.70,113.06L497.20,113.05L496.70,113.04L496.20,113.03L495.70,113.02L495.20,113.00L494.70,112.99L494.20,112.98L493.70,112.97L493.20,112.95L492.70,112.94L492.20,112.93L491.70,112.91L491.20,112.90L490.70,112.88L490.20,112.87L489.70,112.86L489.20,112.84L488.70,112.82L488.20,112.79L487.70,112.77L487.20,112.74L486.70,112.70L486.20,112.67L485.70,112.63L485.20,112.59L484.70,112.55L484.20,112.51L483.70,112.47L483.20,112.43L482.70,112.39L482.20,112.35L481.70,112.30L481.20,112.26L480.70,112.22L480.20,112.18L479.70,112.15L479.20,112.11L478.70,112.08L478.20,112.04L477.70,112.01L477.20,111.99L476.70,111.96L476.20,111.94L475.70,111.92L475.20,111.91L474.70,111.90L474.20,111.90L473.70,111.90L473.20,111.90L472.70,111.90L472.20,111.91L471.70,111.92L471.20,111.93L470.70,111.94L470.20,111.96L469.70,111.98L469.20,112.00L468.70,112.02L468.20,112.04L467.70,112.06L467.20,112.09L466.70,112.12L466.20,112.15L465.70,112.18L465.20,112.21L464.70,112.25L464.20,112.28L463.70,112.32L463.20,112.36L462.70,112.40L462.20,112.44L461.70,112.48L461.20,112.53L460.70,112.57L460.20,112.62L459.70,112.66L459.20,112.71L458.70,112.76L458.20,112.81L457.70,112.86L457.20,112.91L456.70,112.96L456.20,113.01L455.70,113.06L455.20,113.11L454.70,113.17L454.20,113.22L453.70,113.27L453.20,113.33L452.70,113.38L452.20,113.43L451.70,113.49L451.20,113.56L450.70,113.63L450.20,113.70L449.70,113.78L449.20,113.86L448.70,113.95L448.20,114.03L447.70,114.13L447.20,114.22L446.70,114.32L446.20,114.43L445.70,114.53L445.20,114.64L444.70,114.76L444.20,114.87L443.70,114.99L443.20,115.11L442.70,115.23L442.20,115.36L441.70,115.48L441.20,115.61L440.70,115.74L440.20,115.87L439.70,116.01L439.20,116.14L438.70,116.28L438.20,116.42L437.70,116.55L437.20,116.69L436.70,116.83L436.20,116.97L435.70,117.12L435.20,117.26L434.70,117.40L434.20,117.54L433.70,117.68L433.20,117.82L432.70,117.96L432.20,118.10L431.70,118.24L431.20,118.38L430.70,118.52L430.20,118.66L429.70,118.80L429.20,118.93L428.70,119.06L428.20,119.20L427.70,119.33L427.20,119.46L426.70,119.59L426.20,119.72L425.70,119.85L425.20,119.98L424.70,120.11L424.20,120.24L423.70,120.37L423.20,120.50L422.70,120.63L422.20,120.76L421.70,120.90L421.20,121.03L420.70,121.16L420.20,121.30L419.70,121.44L419.20,121.57L418.70,121.71L418.20,121.85L417.70,122.00L417.20,122.14L416.70,122.29L416.20,122.44L415.70,122.59L415.20,122.75L414.70,122.90L414.20,123.06L413.70,123.23L413.20,123.39L412.70,123.56L412.20,123.73L411.70,123.91L411.20,124.09L410.70,124.27L410.20,124.46L409.70,124.65L409.20,124.84L408.70,125.04L408.20,125.24L407.70,125.45L407.20,125.66L406.70,125.88L406.20,126.10L405.70,126.33L405.20,126.57L404.70,126.82L404.20,127.08L403.70,127.36L403.20,127.66L402.70,127.98L402.20,128.31L401.70,128.66L401.20,129.03L400.70,129.42L400.20,129.83L399.70,130.27L399.20,130.73L398.70,131.26L398.20,131.85L397.70,132.53L397.20,133.30L396.70,134.20L396.20,135.33L395.70,136.75L395.20,138.67L394.70,141.23" stroke="#3070E0" stroke-width="1.55" fill="none" stroke-linejoin="round" stroke-linecap="round"/>
<path d="M396.00,151.00L394.80,173.00M394.90,171.00L395.40,170.96L395.90,170.91L396.40,170.87L396.90,170.82L397.40,170.78L397.90,170.73L398.40,170.68L398.90,170.64L399.40,170.59L399.90,170.54L400.40,170.49L400.90,170.43L401.40,170.38L401.90,170.33L402.40,170.27L402.90,170.22L403.40,170.16L403.90,170.11L404.40,170.05L404.90,169.99L405.40,169.93L405.90,169.87L406.40,169.82L406.90,169.75L407.40,169.69L407.90,169.63L408.40,169.57L408.90,169.51L409.40,169.44L409.90,169.38L410.40,169.31L410.90,169.25L411.40,169.18L411.90,169.11L412.40,169.04L412.90,168.98L413.40,168.91L413.90,168.84L414.40,168.77L414.90,168.70L415.40,168.63L415.90,168.56L416.40,168.48L416.90,168.41L417.40,168.34L417.90,168.26L418.40,168.19L418.90,168.12L419.40,168.04L419.90,167.97L420.40,167.89L420.90,167.81L421.40,167.74L421.90,167.66L422.40,167.58L422.90,167.50L423.40,167.42L423.90,167.34L424.40,167.26L424.90,167.18L425.40,167.10L425.90,167.01L426.40,166.92L426.90,166.84L427.40,166.75L427.90,166.66L428.40,166.57L428.90,166.48L429.40,166.39L429.90,166.29L430.40,166.20L430.90,166.10L431.40,166.01L431.90,165.91L432.40,165.81L432.90,165.71L433.40,165.61L433.90,165.51L434.40,165.41L434.90,165.31L435.40,165.21L435.90,165.10L436.40,165.00L436.90,164.89L437.40,164.79L437.90,164.68L438.40,164.57L438.90,164.46L439.40,164.35L439.90,164.24L440.40,164.13L440.90,164.02L441.40,163.91L441.90,163.80L442.40,163.69L442.90,163.57L443.40,163.46L443.90,163.34L444.40,163.23L444.90,163.11L445.40,162.99L445.90,162.88L446.40,162.76L446.90,162.64L447.40,162.52L447.90,162.40L448.40,162.28L448.90,162.16L449.40,162.04L449.90,161.92L450.40,161.80L450.90,161.68L451.40,161.56L451.90,161.43L452.40,161.31L452.90,161.19L453.40,161.06L453.90,160.94L454.40,160.82L454.90,160.69L455.40,160.56L455.90,160.43L456.40,160.29L456.90,160.15L457.40,160.00L457.90,159.85L458.40,159.70L458.90,159.54L459.40,159.38L459.90,159.22L460.40,159.05L460.90,158.88L461.40,158.71L461.90,158.53L462.40,158.35L462.90,158.17L463.40,157.99L463.90,157.81L464.40,157.62L464.90,157.44L465.40,157.25L465.90,157.06L466.40,156.87L466.90,156.68L467.40,156.49L467.90,156.29L468.40,156.10L468.90,155.91L469.40,155.72L469.90,155.53L470.40,155.33L470.90,155.14L471.40,154.95L471.90,154.76L472.40,154.57L472.90,154.39L473.40,154.20L473.90,154.02L474.40,153.84L474.90,153.66L475.40,153.48L475.90,153.30L476.40,153.13L476.90,152.96L477.40,152.79L477.90,152.63L478.40,152.46L478.90,152.31L479.40,152.15L479.90,152.00L480.40,151.85L480.90,151.71L481.40,151.57L481.90,151.44L482.40,151.31L482.90,151.18L483.40,151.06L483.90,150.95L484.40,150.84L484.90,150.74L485.40,150.64L485.90,150.54L486.40,150.46L486.90,150.38L487.40,150.30L487.90,150.23L488.40,150.17L488.90,150.12L489.40,150.07L489.90,150.03L490.40,150.00L490.90,149.96L491.40,149.93L491.90,149.90L492.40,149.87L492.90,149.84L493.40,149.81L493.90,149.78L494.40,149.75L494.90,149.72L495.40,149.70L495.90,149.67L496.40,149.65L496.90,149.63L497.40,149.60L497.90,149.58L498.40,149.56L498.90,149.54L499.40,149.52L499.90,149.50L500.40,149.48L500.90,149.46L501.40,149.44L501.90,149.42L502.40,149.40L502.90,149.39L503.40,149.37L503.90,149.35L504.40,149.34L504.90,149.32L505.40,149.31L505.90,149.29L506.40,149.28L506.90,149.26L507.40,149.25L507.90,149.23L508.40,149.22L508.90,149.21L509.40,149.19L509.90,149.18L510.40,149.16L510.90,149.15L511.40,149.14L511.90,149.12L512.40,149.11L512.90,149.10L513.40,149.08L513.90,149.07L514.40,149.05L514.90,149.04L515.40,149.02L515.90,149.01L516.40,149.00L516.90,148.98L517.40,148.96L517.90,148.95L518.40,148.93L518.90,148.92L519.40,148.90L519.90,148.88L520.40,148.86L520.90,148.85L521.40,148.83L521.90,148.81L522.40,148.79L522.90,148.77L523.40,148.75L523.90,148.73L524.40,148.70L524.90,148.68L525.40,148.66L525.90,148.63L526.40,148.61L526.90,148.58L527.40,148.56L527.90,148.53L528.40,148.50L528.90,148.47L529.40,148.44L529.90,148.41L530.40,148.37L530.90,148.34L531.40,148.30L531.90,148.26L532.40,148.22L532.90,148.18L533.40,148.14L533.90,148.09L534.40,148.05L534.90,148.01L535.40,147.96L535.90,147.92L536.40,147.87L536.90,147.82L537.40,147.78L537.90,147.73L538.40,147.69L538.90,147.64L539.40,147.60L539.90,147.56L540.40,147.51L540.90,147.47L541.40,147.43L541.90,147.38L542.40,147.34L542.90,147.29L543.40,147.25L543.90,147.20L544.40,147.16L544.90,147.11L545.40,147.06L545.90,147.01L546.40,146.96L546.90,146.91L547.40,146.87L547.90,146.81L548.40,146.76L548.90,146.71L549.40,146.66L549.90,146.61L550.40,146.55L550.90,146.50L551.40,146.44L551.90,146.39L552.40,146.33L552.90,146.27L553.40,146.21L553.90,146.16L554.40,146.09L554.90,146.03L555.40,145.97L555.90,145.91L556.40,145.84L556.90,145.77L557.40,145.70L557.90,145.63L558.40,145.56L558.90,145.49L559.40,145.42L559.90,145.34L560.40,145.26L560.90,145.18L561.40,145.10L561.90,145.01L562.40,144.92L562.90,144.83L563.40,144.74L563.90,144.64L564.40,144.54L564.90,144.44L565.40,144.33L565.90,144.22L566.40,144.10L566.90,143.98L567.40,143.86L567.90,143.73L568.40,143.60L568.90,143.46L569.40,143.32L569.90,143.17L570.40,143.02L570.90,142.86L571.40,142.69L571.90,142.52L572.40,142.34L572.90,142.16L573.40,141.97L573.90,141.77L574.40,141.56L574.90,141.34L575.40,141.12L575.90,140.88L576.40,140.64L576.90,140.39L577.40,140.13L577.90,139.85L578.40,139.57L578.90,139.27L579.40,138.97L579.90,138.65L580.40,138.31L580.90,137.97L581.40,137.61L581.90,137.23L582.40,136.84L582.90,136.43L583.40,136.01L583.90,135.57L584.40,135.12L584.90,134.64L585.40,134.14L585.90,133.63L586.40,133.09L586.90,132.54L587.40,131.96L587.90,131.35L588.40,130.73L588.90,130.08L589.40,129.40L589.90,128.69L590.40,127.96L590.90,127.20L591.40,126.40L591.90,125.58L592.40,124.73L592.90,123.84L593.40,122.91L593.90,121.95L594.40,120.95L594.90,119.92L595.40,118.84L595.90,117.72L596.40,116.56L596.90,115.36L597.40,114.10L597.90,112.81L598.40,111.46L598.90,110.06L599.40,108.61L599.90,107.10L600.40,105.54L600.90,103.92L601.40,102.23L601.90,100.49L602.40,98.68L602.90,96.81L603.40,94.87L603.90,92.85L604.40,90.77L604.90,88.61L605.40,86.37L605.90,84.05L606.40,81.65L606.90,79.16L607.40,76.59L607.90,73.92L608.40,71.16L608.50,70.60M608.50,70.60L608.20,71.23L607.70,72.28L607.20,73.31L606.70,74.33L606.20,75.34L605.70,76.32L605.20,77.30L604.70,78.25L604.20,79.20L603.70,80.12L603.20,81.03L602.70,81.93L602.20,82.80L601.70,83.66L601.20,84.51L600.70,85.34L600.20,86.15L599.70,86.94L599.20,87.72L598.70,88.48L598.20,89.23L597.70,89.95L597.20,90.66L596.70,91.36L596.20,92.04L595.70,92.70L595.20,93.35L594.70,93.98L594.20,94.59L593.70,95.19L593.20,95.77L592.70,96.34L592.20,96.89L591.70,97.43L591.20,97.95L590.70,98.46L590.20,98.95L589.70,99.43L589.20,99.90L588.70,100.35L588.20,100.79L587.70,101.22L587.20,101.63L586.70,102.03L586.20,102.42L585.70,102.79L585.20,103.15L584.70,103.50L584.20,103.85L583.70,104.17L583.20,104.49L582.70,104.80L582.20,105.10L581.70,105.38L581.20,105.66L580.70,105.93L580.20,106.19L579.70,106.44L579.20,106.68L578.70,106.91L578.20,107.13L577.70,107.35L577.20,107.55L576.70,107.75L576.20,107.95L575.70,108.13L575.20,108.31L574.70,108.48L574.20,108.65L573.70,108.81L573.20,108.96L572.70,109.11L572.20,109.25L571.70,109.39L571.20,109.52L570.70,109.65L570.20,109.77L569.70,109.88L569.20,110.00L568.70,110.11L568.20,110.21L567.70,110.31L567.20,110.41L566.70,110.50L566.20,110.59L565.70,110.67L565.20,110.75L564.70,110.83L564.20,110.91L563.70,110.98L563.20,111.06L562.70,111.12L562.20,111.19L561.70,111.25L561.20,111.31L560.70,111.37L560.20,111.43L559.70,111.48L559.20,111.54L558.70,111.59L558.20,111.64L557.70,111.69L557.20,111.74L556.70,111.79L556.20,111.84L555.70,111.89L555.20,111.94L554.70,111.98L554.20,112.03L553.70,112.07L553.20,112.12L552.70,112.16L552.20,112.20L551.70,112.25L551.20,112.29L550.70,112.33L550.20,112.37L549.70,112.41L549.20,112.45L548.70,112.50L548.20,112.53L547.70,112.57L547.20,112.61L546.70,112.65L546.20,112.69L545.70,112.73L545.20,112.77L544.70,112.80L544.20,112.84L543.70,112.88L543.20,112.91L542.70,112.95L542.20,112.98L541.70,113.02L541.20,113.05L540.70,113.09L540.20,113.12L539.70,113.15L539.20,113.19L538.70,113.22L538.20,113.25L537.70,113.28L537.20,113.31L536.70,113.34L536.20,113.37L535.70,113.40L535.20,113.43L534.70,113.46L534.20,113.49L533.70,113.51L533.20,113.54L532.70,113.56L532.20,113.59L531.70,113.61L531.20,113.64L530.70,113.66L530.20,113.68L529.70,113.70L529.20,113.72L528.70,113.74L528.20,113.76L527.70,113.78L527.20,113.79L526.70,113.81L526.20,113.82L525.70,113.84L525.20,113.85L524.70,113.86L524.20,113.87L523.70,113.88L523.20,113.89L522.70,113.90L522.20,113.90L521.70,113.91L521.20,113.91L520.70,113.91L520.20,113.92L519.70,113.92L519.20,113.91L518.70,113.91L518.20,113.91L517.70,113.91L517.20,113.91L516.70,113.91L516.20,113.90L515.70,113.90L515.20,113.89L514.70,113.89L514.20,113.88L513.70,113.88L513.20,113.87L512.70,113.87L512.20,113.86L511.70,113.85L511.20,113.84L510.70,113.84L510.20,113.83L509.70,113.82L509.20,113.81L508.70,113.80L508.20,113.79L507.70,113.78L507.20,113.77L506.70,113.76L506.20,113.75L505.70,113.74L505.20,113.73L504.70,113.71L504.20,113.70L503.70,113.69L503.20,113.68L502.70,113.66L502.20,113.65L501.70,113.64L501.20,113.62L500.70,113.61L500.20,113.59L499.70,113.58L499.20,113.56L498.70,113.55L498.20,113.53L497.70,113.52L497.20,113.50L496.70,113.49L496.20,113.47L495.70,113.46L495.20,113.44L494.70,113.42L494.20,113.41L493.70,113.39L493.20,113.37L492.70,113.36L492.20,113.34L491.70,113.32L491.20,113.31L490.70,113.29L490.20,113.27L489.70,113.26L489.20,113.23L488.70,113.21L488.20,113.18L487.70,113.15L487.20,113.12L486.70,113.08L486.20,113.04L485.70,113.00L485.20,112.96L484.70,112.92L484.20,112.87L483.70,112.83L483.20,112.78L482.70,112.74L482.20,112.69L481.70,112.65L481.20,112.61L480.70,112.56L480.20,112.52L479.70,112.48L479.20,112.44L478.70,112.41L478.20,112.37L477.70,112.34L477.20,112.31L476.70,112.29L476.20,112.26L475.70,112.25L475.20,112.23L474.70,112.22L474.20,112.22L473.70,112.22L473.20,112.22L472.70,112.22L472.20,112.23L471.70,112.23L471.20,112.24L470.70,112.25L470.20,112.26L469.70,112.28L469.20,112.29L468.70,112.31L468.20,112.32L467.70,112.34L467.20,112.36L466.70,112.38L466.20,112.41L465.70,112.43L465.20,112.46L464.70,112.48L464.20,112.51L463.70,112.54L463.20,112.57L462.70,112.60L462.20,112.63L461.70,112.66L461.20,112.70L460.70,112.73L460.20,112.77L459.70,112.80L459.20,112.84L458.70,112.88L458.20,112.92L457.70,112.96L457.20,113.00L456.70,113.04L456.20,113.08L455.70,113.12L455.20,113.16L454.70,113.20L454.20,113.25L453.70,113.29L453.20,113.33L452.70,113.38L452.20,113.42L451.70,113.48L451.20,113.53L450.70,113.59L450.20,113.66L449.70,113.73L449.20,113.81L448.70,113.89L448.20,113.98L447.70,114.06L447.20,114.16L446.70,114.26L446.20,114.36L445.70,114.46L445.20,114.57L444.70,114.68L444.20,114.80L443.70,114.91L443.20,115.03L442.70,115.16L442.20,115.28L441.70,115.41L441.20,115.54L440.70,115.67L440.20,115.81L439.70,115.94L439.20,116.08L438.70,116.22L438.20,116.36L437.70,116.50L437.20,116.64L436.70,116.79L436.20,116.93L435.70,117.07L435.20,117.22L434.70,117.36L434.20,117.51L433.70,117.65L433.20,117.79L432.70,117.94L432.20,118.08L431.70,118.22L431.20,118.36L430.70,118.50L430.20,118.64L429.70,118.78L429.20,118.92L428.70,119.05L428.20,119.18L427.70,119.32L427.20,119.45L426.70,119.58L426.20,119.71L425.70,119.85L425.20,119.98L424.70,120.11L424.20,120.24L423.70,120.37L423.20,120.51L422.70,120.64L422.20,120.77L421.70,120.91L421.20,121.05L420.70,121.18L420.20,121.32L419.70,121.46L419.20,121.60L418.70,121.75L418.20,121.89L417.70,122.04L417.20,122.18L416.70,122.33L416.20,122.49L415.70,122.64L415.20,122.80L414.70,122.96L414.20,123.12L413.70,123.29L413.20,123.46L412.70,123.63L412.20,123.80L411.70,123.98L411.20,124.16L410.70,124.35L410.20,124.54L409.70,124.73L409.20,124.93L408.70,125.13L408.20,125.33L407.70,125.54L407.20,125.76L406.70,125.97L406.20,126.20L405.70,126.43L405.20,126.66L404.70,126.91L404.20,127.18L403.70,127.45L403.20,127.75L402.70,128.06L402.20,128.38L401.70,128.73L401.20,129.10L400.70,129.48L400.20,129.89L399.70,130.32L399.20,130.78L398.70,131.30L398.20,131.89L397.70,132.56L397.20,133.33L396.70,134.22L396.20,135.35L395.70,136.77L395.20,138.68L394.70,141.24" stroke="#3CAF6A" stroke-width="1.55" fill="none" stroke-linejoin="round" stroke-linecap="round"/>
<path d="M396.00,151.00L394.80,173.00M394.90,171.00L395.40,170.96L395.90,170.92L396.40,170.87L396.90,170.83L397.40,170.78L397.90,170.74L398.40,170.69L398.90,170.64L399.40,170.59L399.90,170.54L400.40,170.49L400.90,170.44L401.40,170.39L401.90,170.34L402.40,170.29L402.90,170.23L403.40,170.18L403.90,170.12L404.40,170.06L404.90,170.01L405.40,169.95L405.90,169.89L406.40,169.83L406.90,169.77L407.40,169.71L407.90,169.65L408.40,169.59L408.90,169.53L409.40,169.46L409.90,169.40L410.40,169.33L410.90,169.27L411.40,169.20L411.90,169.14L412.40,169.07L412.90,169.00L413.40,168.93L413.90,168.87L414.40,168.80L414.90,168.73L415.40,168.66L415.90,168.59L416.40,168.51L416.90,168.44L417.40,168.37L417.90,168.30L418.40,168.22L418.90,168.15L419.40,168.08L419.90,168.00L420.40,167.93L420.90,167.85L421.40,167.77L421.90,167.70L422.40,167.62L422.90,167.54L423.40,167.47L423.90,167.39L424.40,167.30L424.90,167.22L425.40,167.14L425.90,167.06L426.40,166.97L426.90,166.88L427.40,166.80L427.90,166.71L428.40,166.62L428.90,166.53L429.40,166.44L429.90,166.34L430.40,166.25L430.90,166.16L431.40,166.06L431.90,165.96L432.40,165.87L432.90,165.77L433.40,165.67L433.90,165.57L434.40,165.47L434.90,165.37L435.40,165.27L435.90,165.16L436.40,165.06L436.90,164.95L437.40,164.85L437.90,164.74L438.40,164.63L438.90,164.53L439.40,164.42L439.90,164.31L440.40,164.20L440.90,164.09L441.40,163.98L441.90,163.87L442.40,163.75L442.90,163.64L443.40,163.53L443.90,163.41L444.40,163.30L444.90,163.18L445.40,163.07L445.90,162.95L446.40,162.83L446.90,162.71L447.40,162.60L447.90,162.48L448.40,162.36L448.90,162.24L449.40,162.12L449.90,162.00L450.40,161.88L450.90,161.76L451.40,161.64L451.90,161.51L452.40,161.39L452.90,161.27L453.40,161.15L453.90,161.02L454.40,160.90L454.90,160.78L455.40,160.65L455.90,160.52L456.40,160.38L456.90,160.24L457.40,160.09L457.90,159.94L458.40,159.79L458.90,159.63L459.40,159.47L459.90,159.31L460.40,159.14L460.90,158.97L461.40,158.80L461.90,158.63L462.40,158.45L462.90,158.27L463.40,158.09L463.90,157.91L464.40,157.72L464.90,157.53L465.40,157.35L465.90,157.16L466.40,156.97L466.90,156.78L467.40,156.59L467.90,156.40L468.40,156.20L468.90,156.01L469.40,155.82L469.90,155.63L470.40,155.44L470.90,155.25L471.40,155.06L471.90,154.87L472.40,154.68L472.90,154.49L473.40,154.31L473.90,154.13L474.40,153.94L474.90,153.76L475.40,153.59L475.90,153.41L476.40,153.24L476.90,153.07L477.40,152.90L477.90,152.74L478.40,152.58L478.90,152.42L479.40,152.27L479.90,152.12L480.40,151.97L480.90,151.83L481.40,151.69L481.90,151.56L482.40,151.43L482.90,151.30L483.40,151.19L483.90,151.07L484.40,150.96L484.90,150.86L485.40,150.76L485.90,150.67L486.40,150.58L486.90,150.50L487.40,150.43L487.90,150.36L488.40,150.30L488.90,150.25L489.40,150.20L489.90,150.16L490.40,150.13L490.90,150.10L491.40,150.07L491.90,150.04L492.40,150.01L492.90,149.98L493.40,149.95L493.90,149.92L494.40,149.89L494.90,149.87L495.40,149.84L495.90,149.82L496.40,149.80L496.90,149.77L497.40,149.75L497.90,149.73L498.40,149.71L498.90,149.69L499.40,149.67L499.90,149.65L500.40,149.63L500.90,149.61L501.40,149.59L501.90,149.58L502.40,149.56L502.90,149.54L503.40,149.53L503.90,149.51L504.40,149.50L504.90,149.48L505.40,149.47L505.90,149.45L506.40,149.44L506.90,149.42L507.40,149.41L507.90,149.40L508.40,149.38L508.90,149.37L509.40,149.36L509.90,149.34L510.40,149.33L510.90,149.32L511.40,149.30L511.90,149.29L512.40,149.28L512.90,149.26L513.40,149.25L513.90,149.24L514.40,149.22L514.90,149.21L515.40,149.20L515.90,149.18L516.40,149.17L516.90,149.15L517.40,149.14L517.90,149.12L518.40,149.11L518.90,149.09L519.40,149.08L519.90,149.06L520.40,149.04L520.90,149.03L521.40,149.01L521.90,148.99L522.40,148.97L522.90,148.95L523.40,148.93L523.90,148.91L524.40,148.89L524.90,148.87L525.40,148.85L525.90,148.82L526.40,148.80L526.90,148.77L527.40,148.75L527.90,148.72L528.40,148.70L528.90,148.67L529.40,148.64L529.90,148.61L530.40,148.57L530.90,148.54L531.40,148.50L531.90,148.46L532.40,148.42L532.90,148.38L533.40,148.34L533.90,148.30L534.40,148.26L534.90,148.22L535.40,148.17L535.90,148.13L536.40,148.08L536.90,148.04L537.40,148.00L537.90,147.95L538.40,147.91L538.90,147.87L539.40,147.83L539.90,147.78L540.40,147.74L540.90,147.70L541.40,147.66L541.90,147.62L542.40,147.58L542.90,147.54L543.40,147.49L543.90,147.45L544.40,147.41L544.90,147.36L545.40,147.32L545.90,147.28L546.40,147.23L546.90,147.19L547.40,147.14L547.90,147.09L548.40,147.05L548.90,147.00L549.40,146.95L549.90,146.91L550.40,146.86L550.90,146.81L551.40,146.76L551.90,146.71L552.40,146.66L552.90,146.61L553.40,146.56L553.90,146.51L554.40,146.45L554.90,146.40L555.40,146.35L555.90,146.29L556.40,146.24L556.90,146.18L557.40,146.12L557.90,146.06L558.40,146.00L558.90,145.94L559.40,145.88L559.90,145.82L560.40,145.75L560.90,145.69L561.40,145.62L561.90,145.55L562.40,145.48L562.90,145.40L563.40,145.33L563.90,145.25L564.40,145.17L564.90,145.08L565.40,145.00L565.90,144.91L566.40,144.82L566.90,144.72L567.40,144.63L567.90,144.52L568.40,144.42L568.90,144.31L569.40,144.20L569.90,144.08L570.40,143.96L570.90,143.84L571.40,143.71L571.90,143.57L572.40,143.43L572.90,143.29L573.40,143.13L573.90,142.98L574.40,142.81L574.90,142.64L575.40,142.47L575.90,142.28L576.40,142.09L576.90,141.89L577.40,141.69L577.90,141.47L578.40,141.24L578.90,141.01L579.40,140.76L579.90,140.51L580.40,140.24L580.90,139.97L581.40,139.68L581.90,139.38L582.40,139.06L582.90,138.73L583.40,138.39L583.90,138.03L584.40,137.66L584.90,137.27L585.40,136.87L585.90,136.44L586.40,136.00L586.90,135.54L587.40,135.06L587.90,134.55L588.40,134.03L588.90,133.48L589.40,132.91L589.90,132.31L590.40,131.69L590.90,131.04L591.40,130.36L591.90,129.65L592.40,128.91L592.90,128.14L593.40,127.33L593.90,126.49L594.40,125.61L594.90,124.70L595.40,123.74L595.90,122.74L596.40,121.70L596.90,120.61L597.40,119.48L597.90,118.29L598.40,117.06L598.90,115.77L599.40,114.43L599.90,113.02L600.40,111.56L600.90,110.04L601.40,108.45L601.90,106.79L602.40,105.06L602.90,103.25L603.40,101.37L603.90,99.41L604.40,97.37L604.90,95.24L605.40,93.01L605.90,90.70L606.40,88.29L606.90,85.77L607.40,83.15L607.90,80.43L608.40,77.58L608.50,77.00M608.50,77.00L608.20,77.53L607.70,78.41L607.20,79.26L606.70,80.09L606.20,80.89L605.70,81.68L605.20,82.45L604.70,83.20L604.20,83.93L603.70,84.64L603.20,85.34L602.70,86.01L602.20,86.67L601.70,87.31L601.20,87.94L600.70,88.55L600.20,89.14L599.70,89.72L599.20,90.29L598.70,90.84L598.20,91.37L597.70,91.89L597.20,92.40L596.70,92.90L596.20,93.38L595.70,93.85L595.20,94.31L594.70,94.75L594.20,95.19L593.70,95.61L593.20,96.02L592.70,96.42L592.20,96.81L591.70,97.19L591.20,97.56L590.70,97.92L590.20,98.28L589.70,98.62L589.20,98.95L588.70,99.28L588.20,99.59L587.70,99.90L587.20,100.20L586.70,100.49L586.20,100.77L585.70,101.05L585.20,101.32L584.70,101.58L584.20,101.83L583.70,102.08L583.20,102.32L582.70,102.56L582.20,102.79L581.70,103.01L581.20,103.23L580.70,103.44L580.20,103.64L579.70,103.84L579.20,104.04L578.70,104.22L578.20,104.41L577.70,104.59L577.20,104.76L576.70,104.93L576.20,105.10L575.70,105.26L575.20,105.42L574.70,105.57L574.20,105.72L573.70,105.86L573.20,106.00L572.70,106.14L572.20,106.27L571.70,106.40L571.20,106.53L570.70,106.65L570.20,106.77L569.70,106.89L569.20,107.00L568.70,107.11L568.20,107.22L567.70,107.32L567.20,107.42L566.70,107.52L566.20,107.62L565.70,107.71L565.20,107.81L564.70,107.90L564.20,107.98L563.70,108.07L563.20,108.15L562.70,108.23L562.20,108.31L561.70,108.39L561.20,108.46L560.70,108.53L560.20,108.60L559.70,108.67L559.20,108.74L558.70,108.81L558.20,108.88L557.70,108.95L557.20,109.03L556.70,109.10L556.20,109.17L555.70,109.24L555.20,109.32L554.70,109.39L554.20,109.46L553.70,109.54L553.20,109.61L552.70,109.69L552.20,109.76L551.70,109.84L551.20,109.92L550.70,109.99L550.20,110.07L549.70,110.14L549.20,110.22L548.70,110.30L548.20,110.37L547.70,110.45L547.20,110.52L546.70,110.60L546.20,110.68L545.70,110.75L545.20,110.83L544.70,110.90L544.20,110.98L543.70,111.05L543.20,111.13L542.70,111.20L542.20,111.28L541.70,111.35L541.20,111.42L540.70,111.49L540.20,111.57L539.70,111.64L539.20,111.71L538.70,111.78L538.20,111.84L537.70,111.91L537.20,111.98L536.70,112.05L536.20,112.11L535.70,112.17L535.20,112.24L534.70,112.30L534.20,112.36L533.70,112.42L533.20,112.48L532.70,112.53L532.20,112.59L531.70,112.64L531.20,112.70L530.70,112.75L530.20,112.80L529.70,112.84L529.20,112.89L528.70,112.94L528.20,112.98L527.70,113.02L527.20,113.06L526.70,113.09L526.20,113.13L525.70,113.16L525.20,113.19L524.70,113.22L524.20,113.25L523.70,113.27L523.20,113.30L522.70,113.31L522.20,113.33L521.70,113.35L521.20,113.36L520.70,113.37L520.20,113.38L519.70,113.38L519.20,113.38L518.70,113.39L518.20,113.39L517.70,113.40L517.20,113.40L516.70,113.40L516.20,113.41L515.70,113.41L515.20,113.41L514.70,113.41L514.20,113.42L513.70,113.42L513.20,113.42L512.70,113.42L512.20,113.42L511.70,113.43L511.20,113.43L510.70,113.43L510.20,113.43L509.70,113.43L509.20,113.43L508.70,113.43L508.20,113.43L507.70,113.43L507.20,113.43L506.70,113.43L506.20,113.43L505.70,113.43L505.20,113.43L504.70,113.43L504.20,113.43L503.70,113.43L503.20,113.43L502.70,113.43L502.20,113.43L501.70,113.43L501.20,113.43L500.70,113.43L500.20,113.43L499.70,113.43L499.20,113.43L498.70,113.42L498.20,113.42L497.70,113.42L497.20,113.42L496.70,113.42L496.20,113.42L495.70,113.41L495.20,113.41L494.70,113.41L494.20,113.41L493.70,113.41L493.20,113.40L492.70,113.40L492.20,113.40L491.70,113.40L491.20,113.39L490.70,113.39L490.20,113.39L489.70,113.38L489.20,113.38L488.70,113.37L488.20,113.35L487.70,113.34L487.20,113.32L486.70,113.29L486.20,113.27L485.70,113.24L485.20,113.21L484.70,113.18L484.20,113.15L483.70,113.12L483.20,113.09L482.70,113.05L482.20,113.02L481.70,112.98L481.20,112.95L480.70,112.92L480.20,112.88L479.70,112.85L479.20,112.82L478.70,112.79L478.20,112.77L477.70,112.74L477.20,112.72L476.70,112.70L476.20,112.68L475.70,112.66L475.20,112.65L474.70,112.65L474.20,112.64L473.70,112.64L473.20,112.64L472.70,112.65L472.20,112.66L471.70,112.67L471.20,112.68L470.70,112.69L470.20,112.71L469.70,112.73L469.20,112.75L468.70,112.77L468.20,112.80L467.70,112.83L467.20,112.86L466.70,112.89L466.20,112.92L465.70,112.96L465.20,112.99L464.70,113.03L464.20,113.07L463.70,113.11L463.20,113.15L462.70,113.20L462.20,113.24L461.70,113.29L461.20,113.34L460.70,113.38L460.20,113.43L459.70,113.48L459.20,113.54L458.70,113.59L458.20,113.64L457.70,113.69L457.20,113.75L456.70,113.80L456.20,113.86L455.70,113.91L455.20,113.97L454.70,114.03L454.20,114.08L453.70,114.14L453.20,114.20L452.70,114.25L452.20,114.31L451.70,114.37L451.20,114.44L450.70,114.51L450.20,114.59L449.70,114.67L449.20,114.75L448.70,114.84L448.20,114.93L447.70,115.02L447.20,115.12L446.70,115.22L446.20,115.32L445.70,115.42L445.20,115.53L444.70,115.64L444.20,115.76L443.70,115.87L443.20,115.99L442.70,116.11L442.20,116.24L441.70,116.36L441.20,116.49L440.70,116.61L440.20,116.74L439.70,116.88L439.20,117.01L438.70,117.14L438.20,117.28L437.70,117.41L437.20,117.55L436.70,117.69L436.20,117.82L435.70,117.96L435.20,118.10L434.70,118.24L434.20,118.38L433.70,118.52L433.20,118.66L432.70,118.79L432.20,118.93L431.70,119.07L431.20,119.21L430.70,119.34L430.20,119.48L429.70,119.61L429.20,119.75L428.70,119.88L428.20,120.01L427.70,120.14L427.20,120.27L426.70,120.40L426.20,120.53L425.70,120.66L425.20,120.79L424.70,120.92L424.20,121.05L423.70,121.18L423.20,121.31L422.70,121.44L422.20,121.57L421.70,121.71L421.20,121.84L420.70,121.98L420.20,122.11L419.70,122.25L419.20,122.39L418.70,122.53L418.20,122.67L417.70,122.81L417.20,122.95L416.70,123.10L416.20,123.25L415.70,123.40L415.20,123.55L414.70,123.71L414.20,123.86L413.70,124.02L413.20,124.19L412.70,124.35L412.20,124.52L411.70,124.69L411.20,124.87L410.70,125.05L410.20,125.23L409.70,125.41L409.20,125.60L408.70,125.79L408.20,125.99L407.70,126.19L407.20,126.39L406.70,126.60L406.20,126.81L405.70,127.03L405.20,127.25L404.70,127.49L404.20,127.73L403.70,127.99L403.20,128.26L402.70,128.54L402.20,128.84L401.70,129.16L401.20,129.49L400.70,129.85L400.20,130.23L399.70,130.63L399.20,131.06L398.70,131.56L398.20,132.12L397.70,132.77L397.20,133.50L396.70,134.37L396.20,135.47L395.70,136.86L395.20,138.75L394.70,141.28" stroke="#B878E8" stroke-width="1.55" fill="none" stroke-linejoin="round" stroke-linecap="round"/>
<path d="M396.00,151.00L394.80,173.00M394.90,172.50L397.00,172.13L399.75,171.65L403.03,171.07L406.69,170.43L410.60,169.73L414.63,169.00L418.64,168.25L422.50,167.50L426.28,166.76L430.15,166.00L434.10,165.22L438.12,164.41L442.20,163.56L446.32,162.64L450.50,161.66L454.70,160.60L459.00,159.37L463.43,157.96L467.94,156.43L472.49,154.86L477.01,153.34L481.47,151.94L485.82,150.73L490.00,149.80L494.15,149.17L498.37,148.77L502.58,148.56L506.67,148.47L510.55,148.45L514.13,148.46L517.31,148.42L520.00,148.30L522.08,148.15L523.59,148.04L524.67,147.95L525.46,147.85L526.11,147.71L526.75,147.51L527.54,147.22L528.60,146.80L529.86,146.26L531.15,145.63L532.48,144.92L533.85,144.13L535.28,143.29L536.77,142.39L538.35,141.46L540.00,140.50L541.81,139.47L543.78,138.34L545.87,137.13L548.01,135.90L550.13,134.67L552.18,133.46L554.09,132.33L555.80,131.30L557.33,130.36L558.74,129.49L560.05,128.67L561.26,127.89L562.40,127.14L563.48,126.42L564.51,125.71L565.50,125.00L566.39,124.35L567.13,123.78L567.77,123.25L568.37,122.73L569.00,122.18L569.69,121.57L570.50,120.86L571.50,120.00L572.72,119.00L574.14,117.89L575.69,116.69L577.30,115.42L578.92,114.09L580.49,112.74L581.93,111.37L583.20,110.00L584.30,108.60L585.30,107.11L586.21,105.59L587.05,104.04L587.83,102.51L588.58,101.03L589.29,99.61L590.00,98.30L590.68,97.12L591.30,96.04L591.88,95.04L592.42,94.08L592.95,93.13L593.46,92.16L593.98,91.12L594.50,90.00L595.02,88.82L595.51,87.63L596.00,86.42L596.48,85.17L596.96,83.86L597.45,82.47L597.96,80.99L598.50,79.40L599.08,77.67L599.69,75.79L600.32,73.81L600.96,71.76L601.60,69.67L602.22,67.59L602.83,65.56L603.40,63.60L603.96,61.70L604.52,59.83L605.08,57.97L605.61,56.13L606.12,54.31L606.57,52.49L606.97,50.69L607.30,48.90L607.55,47.03L607.72,45.04L607.83,43.02L607.89,41.03L607.93,39.16L607.95,37.48L607.97,36.07L608.00,35.00M608.00,35.00L607.75,35.64L607.45,36.51L607.10,37.55L606.69,38.69L606.22,39.88L605.69,41.03L605.08,42.09L604.40,43.00L603.60,43.78L602.67,44.51L601.65,45.20L600.57,45.83L599.48,46.42L598.41,46.96L597.40,47.45L596.50,47.90L595.71,48.29L594.98,48.61L594.31,48.88L593.67,49.10L593.04,49.29L592.40,49.47L591.72,49.63L591.00,49.80L590.25,49.97L589.49,50.14L588.73,50.29L587.94,50.43L587.13,50.54L586.27,50.63L585.37,50.68L584.40,50.70L583.36,50.68L582.25,50.61L581.08,50.51L579.88,50.38L578.66,50.24L577.42,50.09L576.20,49.94L575.00,49.80L573.80,49.64L572.59,49.42L571.36,49.19L570.13,48.96L568.92,48.76L567.74,48.61L566.59,48.55L565.50,48.60L564.46,48.75L563.45,48.97L562.48,49.25L561.53,49.61L560.61,50.02L559.72,50.49L558.85,51.02L558.00,51.60L557.18,52.23L556.39,52.92L555.63,53.67L554.89,54.47L554.16,55.33L553.44,56.26L552.73,57.25L552.00,58.30L551.27,59.45L550.54,60.71L549.82,62.06L549.11,63.46L548.40,64.88L547.69,66.29L546.99,67.68L546.30,69.00L545.61,70.26L544.93,71.49L544.25,72.70L543.58,73.90L542.91,75.10L542.26,76.31L541.62,77.54L541.00,78.80L540.40,80.08L539.84,81.37L539.29,82.67L538.75,83.99L538.21,85.32L537.66,86.68L537.10,88.08L536.50,89.50L535.87,91.00L535.21,92.60L534.53,94.25L533.84,95.92L533.16,97.56L532.48,99.13L531.82,100.59L531.20,101.90L530.62,103.07L530.08,104.15L529.56,105.14L529.06,106.06L528.54,106.90L528.01,107.68L527.43,108.41L526.80,109.10L526.14,109.73L525.48,110.30L524.80,110.80L524.09,111.24L523.33,111.64L522.50,111.99L521.60,112.31L520.60,112.60L519.55,112.84L518.48,113.02L517.36,113.15L516.16,113.25L514.86,113.32L513.41,113.38L511.80,113.43L510.00,113.50L507.94,113.57L505.63,113.63L503.13,113.69L500.50,113.73L497.81,113.77L495.12,113.79L492.50,113.80L490.00,113.80L487.65,113.75L485.39,113.63L483.18,113.48L480.97,113.33L478.74,113.21L476.42,113.16L473.99,113.22L471.40,113.40L468.74,113.71L466.10,114.10L463.41,114.57L460.61,115.11L457.64,115.73L454.42,116.42L450.89,117.18L447.00,118.00L442.42,118.96L437.06,120.09L431.25,121.34L425.27,122.63L419.43,123.91L414.04,125.10L409.39,126.16L405.80,127.00L403.32,127.62L401.68,128.07L400.71,128.39L400.23,128.62L400.05,128.81L399.99,128.99L399.87,129.21L399.50,129.50L399.00,129.84L398.58,130.19L398.24,130.54L397.94,130.91L397.69,131.28L397.46,131.67L397.23,132.07L397.00,132.50L396.77,132.95L396.56,133.41L396.37,133.90L396.20,134.39L396.04,134.90L395.89,135.43L395.74,135.96L395.60,136.50L395.46,137.09L395.32,137.74L395.19,138.42L395.06,139.10L394.95,139.75L394.85,140.34L394.77,140.83L394.70,141.20" stroke="#DCA21A" stroke-width="1.55" fill="none" stroke-linejoin="round" stroke-linecap="round"/>
<path d="M396.00,151.00L394.80,173.00M394.90,170.50L395.40,170.47L395.90,170.44L396.40,170.41L396.90,170.38L397.40,170.34L397.90,170.31L398.40,170.27L398.90,170.23L399.40,170.20L399.90,170.16L400.40,170.12L400.90,170.08L401.40,170.03L401.90,169.99L402.40,169.95L402.90,169.90L403.40,169.86L403.90,169.81L404.40,169.76L404.90,169.71L405.40,169.66L405.90,169.61L406.40,169.56L406.90,169.51L407.40,169.46L407.90,169.41L408.40,169.35L408.90,169.30L409.40,169.24L409.90,169.19L410.40,169.13L410.90,169.07L411.40,169.01L411.90,168.95L412.40,168.89L412.90,168.83L413.40,168.77L413.90,168.71L414.40,168.65L414.90,168.58L415.40,168.52L415.90,168.46L416.40,168.39L416.90,168.33L417.40,168.26L417.90,168.20L418.40,168.13L418.90,168.06L419.40,167.99L419.90,167.93L420.40,167.86L420.90,167.79L421.40,167.72L421.90,167.65L422.40,167.58L422.90,167.51L423.40,167.44L423.90,167.36L424.40,167.29L424.90,167.21L425.40,167.13L425.90,167.05L426.40,166.97L426.90,166.89L427.40,166.80L427.90,166.72L428.40,166.63L428.90,166.54L429.40,166.45L429.90,166.36L430.40,166.27L430.90,166.17L431.40,166.08L431.90,165.98L432.40,165.89L432.90,165.79L433.40,165.69L433.90,165.59L434.40,165.49L434.90,165.38L435.40,165.28L435.90,165.17L436.40,165.07L436.90,164.96L437.40,164.85L437.90,164.74L438.40,164.64L438.90,164.52L439.40,164.41L439.90,164.30L440.40,164.19L440.90,164.08L441.40,163.96L441.90,163.85L442.40,163.73L442.90,163.61L443.40,163.50L443.90,163.38L444.40,163.26L444.90,163.14L445.40,163.02L445.90,162.90L446.40,162.78L446.90,162.66L447.40,162.54L447.90,162.42L448.40,162.30L448.90,162.18L449.40,162.05L449.90,161.93L450.40,161.81L450.90,161.68L451.40,161.56L451.90,161.44L452.40,161.31L452.90,161.19L453.40,161.06L453.90,160.94L454.40,160.82L454.90,160.69L455.40,160.56L455.90,160.43L456.40,160.29L456.90,160.15L457.40,160.00L457.90,159.85L458.40,159.70L458.90,159.54L459.40,159.38L459.90,159.22L460.40,159.05L460.90,158.88L461.40,158.71L461.90,158.53L462.40,158.35L462.90,158.17L463.40,157.99L463.90,157.81L464.40,157.62L464.90,157.44L465.40,157.25L465.90,157.06L466.40,156.87L466.90,156.68L467.40,156.49L467.90,156.29L468.40,156.10L468.90,155.91L469.40,155.72L469.90,155.53L470.40,155.33L470.90,155.14L471.40,154.95L471.90,154.76L472.40,154.57L472.90,154.39L473.40,154.20L473.90,154.02L474.40,153.84L474.90,153.66L475.40,153.48L475.90,153.30L476.40,153.13L476.90,152.96L477.40,152.79L477.90,152.63L478.40,152.46L478.90,152.31L479.40,152.15L479.90,152.00L480.40,151.85L480.90,151.71L481.40,151.57L481.90,151.44L482.40,151.31L482.90,151.18L483.40,151.06L483.90,150.95L484.40,150.84L484.90,150.73L485.40,150.64L485.90,150.54L486.40,150.46L486.90,150.38L487.40,150.30L487.90,150.23L488.40,150.17L488.90,150.12L489.40,150.07L489.90,150.03L490.40,150.00L490.90,149.96L491.40,149.93L491.90,149.90L492.40,149.87L492.90,149.84L493.40,149.81L493.90,149.78L494.40,149.75L494.90,149.72L495.40,149.70L495.90,149.67L496.40,149.65L496.90,149.63L497.40,149.60L497.90,149.58L498.40,149.56L498.90,149.54L499.40,149.52L499.90,149.50L500.40,149.48L500.90,149.46L501.40,149.44L501.90,149.42L502.40,149.40L502.90,149.39L503.40,149.37L503.90,149.35L504.40,149.34L504.90,149.32L505.40,149.31L505.90,149.29L506.40,149.28L506.90,149.26L507.40,149.25L507.90,149.23L508.40,149.22L508.90,149.21L509.40,149.19L509.90,149.18L510.40,149.16L510.90,149.15L511.40,149.14L511.90,149.12L512.40,149.11L512.90,149.10L513.40,149.08L513.90,149.07L514.40,149.06L514.90,149.04L515.40,149.03L515.90,149.01L516.40,149.00L516.90,148.98L517.40,148.97L517.90,148.95L518.40,148.94L518.90,148.92L519.40,148.90L519.90,148.89L520.40,148.87L520.90,148.85L521.40,148.83L521.90,148.81L522.40,148.80L522.90,148.78L523.40,148.76L523.90,148.73L524.40,148.71L524.90,148.69L525.40,148.67L525.90,148.64L526.40,148.62L526.90,148.60L527.40,148.57L527.90,148.54L528.40,148.52L528.90,148.49L529.40,148.46L529.90,148.43L530.40,148.39L530.90,148.36L531.40,148.32L531.90,148.28L532.40,148.24L532.90,148.20L533.40,148.16L533.90,148.12L534.40,148.08L534.90,148.04L535.40,148.00L535.90,147.95L536.40,147.91L536.90,147.87L537.40,147.82L537.90,147.78L538.40,147.74L538.90,147.70L539.40,147.66L539.90,147.62L540.40,147.58L540.90,147.54L541.40,147.50L541.90,147.46L542.40,147.42L542.90,147.38L543.40,147.34L543.90,147.30L544.40,147.26L544.90,147.22L545.40,147.18L545.90,147.14L546.40,147.09L546.90,147.05L547.40,147.01L547.90,146.97L548.40,146.93L548.90,146.89L549.40,146.84L549.90,146.80L550.40,146.76L550.90,146.72L551.40,146.67L551.90,146.63L552.40,146.59L552.90,146.54L553.40,146.50L553.90,146.46L554.40,146.41L554.90,146.37L555.40,146.32L555.90,146.28L556.40,146.24L556.90,146.19L557.40,146.14L557.90,146.10L558.40,146.05L558.90,146.01L559.40,145.96L559.90,145.91L560.40,145.86L560.90,145.81L561.40,145.76L561.90,145.71L562.40,145.66L562.90,145.61L563.40,145.55L563.90,145.50L564.40,145.44L564.90,145.38L565.40,145.32L565.90,145.26L566.40,145.20L566.90,145.14L567.40,145.07L567.90,145.00L568.40,144.93L568.90,144.86L569.40,144.78L569.90,144.71L570.40,144.63L570.90,144.54L571.40,144.46L571.90,144.37L572.40,144.28L572.90,144.18L573.40,144.09L573.90,143.98L574.40,143.88L574.90,143.77L575.40,143.65L575.90,143.53L576.40,143.41L576.90,143.28L577.40,143.14L577.90,143.00L578.40,142.85L578.90,142.69L579.40,142.53L579.90,142.36L580.40,142.18L580.90,142.00L581.40,141.80L581.90,141.60L582.40,141.38L582.90,141.16L583.40,140.92L583.90,140.67L584.40,140.41L584.90,140.14L585.40,139.85L585.90,139.55L586.40,139.23L586.90,138.90L587.40,138.55L587.90,138.18L588.40,137.79L588.90,137.38L589.40,136.95L589.90,136.49L590.40,136.01L590.90,135.51L591.40,134.98L591.90,134.42L592.40,133.83L592.90,133.20L593.40,132.55L593.90,131.85L594.40,131.12L594.90,130.35L595.40,129.54L595.90,128.68L596.40,127.77L596.90,126.82L597.40,125.81L597.90,124.74L598.40,123.62L598.90,122.43L599.40,121.18L599.90,119.86L600.40,118.46L600.90,116.98L601.40,115.43L601.90,113.78L602.40,112.04L602.90,110.20L603.40,108.27L603.90,106.22L604.40,104.05L604.90,101.76L605.40,99.35L605.90,96.80L606.40,94.10L606.90,91.25L607.40,88.24L607.90,85.06L608.40,81.69L608.50,81.00M608.50,81.00L608.20,81.53L607.70,82.41L607.20,83.28L606.70,84.14L606.20,84.98L605.70,85.81L605.20,86.63L604.70,87.43L604.20,88.22L603.70,88.99L603.20,89.75L602.70,90.49L602.20,91.22L601.70,91.93L601.20,92.63L600.70,93.31L600.20,93.98L599.70,94.63L599.20,95.27L598.70,95.89L598.20,96.49L597.70,97.08L597.20,97.66L596.70,98.22L596.20,98.76L595.70,99.29L595.20,99.80L594.70,100.30L594.20,100.79L593.70,101.26L593.20,101.71L592.70,102.15L592.20,102.58L591.70,103.00L591.20,103.40L590.70,103.79L590.20,104.16L589.70,104.52L589.20,104.87L588.70,105.21L588.20,105.54L587.70,105.85L587.20,106.15L586.70,106.44L586.20,106.73L585.70,107.00L585.20,107.26L584.70,107.51L584.20,107.75L583.70,107.98L583.20,108.20L582.70,108.41L582.20,108.61L581.70,108.81L581.20,109.00L580.70,109.18L580.20,109.35L579.70,109.51L579.20,109.67L578.70,109.82L578.20,109.97L577.70,110.11L577.20,110.24L576.70,110.36L576.20,110.48L575.70,110.60L575.20,110.71L574.70,110.81L574.20,110.91L573.70,111.01L573.20,111.10L572.70,111.19L572.20,111.27L571.70,111.35L571.20,111.42L570.70,111.49L570.20,111.56L569.70,111.63L569.20,111.69L568.70,111.75L568.20,111.81L567.70,111.86L567.20,111.91L566.70,111.96L566.20,112.01L565.70,112.05L565.20,112.09L564.70,112.13L564.20,112.17L563.70,112.21L563.20,112.24L562.70,112.28L562.20,112.31L561.70,112.34L561.20,112.37L560.70,112.40L560.20,112.42L559.70,112.45L559.20,112.48L558.70,112.50L558.20,112.53L557.70,112.55L557.20,112.57L556.70,112.60L556.20,112.62L555.70,112.64L555.20,112.67L554.70,112.69L554.20,112.71L553.70,112.73L553.20,112.76L552.70,112.78L552.20,112.80L551.70,112.82L551.20,112.85L550.70,112.87L550.20,112.89L549.70,112.91L549.20,112.93L548.70,112.95L548.20,112.98L547.70,113.00L547.20,113.02L546.70,113.04L546.20,113.06L545.70,113.08L545.20,113.10L544.70,113.12L544.20,113.15L543.70,113.17L543.20,113.19L542.70,113.21L542.20,113.23L541.70,113.25L541.20,113.27L540.70,113.29L540.20,113.31L539.70,113.33L539.20,113.35L538.70,113.37L538.20,113.39L537.70,113.41L537.20,113.42L536.70,113.44L536.20,113.46L535.70,113.48L535.20,113.50L534.70,113.51L534.20,113.53L533.70,113.55L533.20,113.56L532.70,113.58L532.20,113.59L531.70,113.61L531.20,113.62L530.70,113.64L530.20,113.65L529.70,113.66L529.20,113.68L528.70,113.69L528.20,113.70L527.70,113.71L527.20,113.72L526.70,113.73L526.20,113.74L525.70,113.75L525.20,113.76L524.70,113.77L524.20,113.77L523.70,113.78L523.20,113.78L522.70,113.79L522.20,113.79L521.70,113.80L521.20,113.80L520.70,113.80L520.20,113.80L519.70,113.80L519.20,113.80L518.70,113.79L518.20,113.79L517.70,113.78L517.20,113.78L516.70,113.77L516.20,113.76L515.70,113.75L515.20,113.73L514.70,113.72L514.20,113.70L513.70,113.69L513.20,113.67L512.70,113.65L512.20,113.63L511.70,113.61L511.20,113.59L510.70,113.57L510.20,113.54L509.70,113.52L509.20,113.49L508.70,113.46L508.20,113.44L507.70,113.41L507.20,113.38L506.70,113.35L506.20,113.32L505.70,113.29L505.20,113.26L504.70,113.22L504.20,113.19L503.70,113.16L503.20,113.12L502.70,113.09L502.20,113.05L501.70,113.02L501.20,112.98L500.70,112.95L500.20,112.91L499.70,112.87L499.20,112.84L498.70,112.80L498.20,112.76L497.70,112.72L497.20,112.68L496.70,112.65L496.20,112.61L495.70,112.57L495.20,112.53L494.70,112.49L494.20,112.46L493.70,112.42L493.20,112.38L492.70,112.34L492.20,112.30L491.70,112.27L491.20,112.23L490.70,112.19L490.20,112.15L489.70,112.12L489.20,112.08L488.70,112.03L488.20,111.98L487.70,111.93L487.20,111.87L486.70,111.81L486.20,111.75L485.70,111.69L485.20,111.63L484.70,111.56L484.20,111.50L483.70,111.43L483.20,111.36L482.70,111.30L482.20,111.23L481.70,111.16L481.20,111.10L480.70,111.04L480.20,110.98L479.70,110.92L479.20,110.87L478.70,110.81L478.20,110.77L477.70,110.72L477.20,110.68L476.70,110.65L476.20,110.61L475.70,110.59L475.20,110.57L474.70,110.56L474.20,110.55L473.70,110.55L473.20,110.56L472.70,110.57L472.20,110.60L471.70,110.64L471.20,110.68L470.70,110.73L470.20,110.79L469.70,110.86L469.20,110.93L468.70,111.01L468.20,111.10L467.70,111.19L467.20,111.29L466.70,111.39L466.20,111.50L465.70,111.61L465.20,111.73L464.70,111.85L464.20,111.98L463.70,112.10L463.20,112.23L462.70,112.37L462.20,112.50L461.70,112.64L461.20,112.78L460.70,112.92L460.20,113.06L459.70,113.20L459.20,113.34L458.70,113.48L458.20,113.63L457.70,113.77L457.20,113.90L456.70,114.04L456.20,114.18L455.70,114.31L455.20,114.44L454.70,114.57L454.20,114.69L453.70,114.81L453.20,114.93L452.70,115.04L452.20,115.15L451.70,115.27L451.20,115.38L450.70,115.49L450.20,115.60L449.70,115.71L449.20,115.82L448.70,115.93L448.20,116.04L447.70,116.15L447.20,116.26L446.70,116.38L446.20,116.49L445.70,116.60L445.20,116.71L444.70,116.83L444.20,116.94L443.70,117.05L443.20,117.17L442.70,117.28L442.20,117.39L441.70,117.51L441.20,117.62L440.70,117.74L440.20,117.85L439.70,117.96L439.20,118.08L438.70,118.19L438.20,118.31L437.70,118.42L437.20,118.54L436.70,118.66L436.20,118.77L435.70,118.89L435.20,119.00L434.70,119.12L434.20,119.24L433.70,119.35L433.20,119.47L432.70,119.59L432.20,119.70L431.70,119.82L431.20,119.94L430.70,120.06L430.20,120.17L429.70,120.29L429.20,120.41L428.70,120.52L428.20,120.64L427.70,120.75L427.20,120.86L426.70,120.96L426.20,121.07L425.70,121.17L425.20,121.27L424.70,121.37L424.20,121.47L423.70,121.57L423.20,121.67L422.70,121.77L422.20,121.87L421.70,121.96L421.20,122.06L420.70,122.16L420.20,122.26L419.70,122.36L419.20,122.46L418.70,122.56L418.20,122.66L417.70,122.76L417.20,122.87L416.70,122.98L416.20,123.09L415.70,123.20L415.20,123.31L414.70,123.43L414.20,123.55L413.70,123.67L413.20,123.79L412.70,123.92L412.20,124.06L411.70,124.19L411.20,124.33L410.70,124.47L410.20,124.62L409.70,124.77L409.20,124.93L408.70,125.09L408.20,125.26L407.70,125.43L407.20,125.61L406.70,125.79L406.20,125.98L405.70,126.18L405.20,126.39L404.70,126.63L404.20,126.89L403.70,127.17L403.20,127.47L402.70,127.79L402.20,128.14L401.70,128.50L401.20,128.89L400.70,129.30L400.20,129.72L399.70,130.17L399.20,130.64L398.70,131.17L398.20,131.77L397.70,132.46L397.20,133.24L396.70,134.15L396.20,135.29L395.70,136.72L395.20,138.65L394.70,141.22" stroke="#28D0D0" stroke-width="1.55" fill="none" stroke-linejoin="round" stroke-linecap="round"/>
<path d="M396.00,151.00L394.80,173.00M394.90,165.50L395.40,165.58L395.90,165.67L396.40,165.75L396.90,165.82L397.40,165.90L397.90,165.97L398.40,166.04L398.90,166.11L399.40,166.18L399.90,166.25L400.40,166.31L400.90,166.37L401.40,166.43L401.90,166.49L402.40,166.54L402.90,166.59L403.40,166.64L403.90,166.69L404.40,166.74L404.90,166.79L405.40,166.83L405.90,166.87L406.40,166.91L406.90,166.95L407.40,166.99L407.90,167.03L408.40,167.06L408.90,167.09L409.40,167.12L409.90,167.15L410.40,167.18L410.90,167.21L411.40,167.23L411.90,167.26L412.40,167.28L412.90,167.30L413.40,167.32L413.90,167.34L414.40,167.35L414.90,167.37L415.40,167.38L415.90,167.40L416.40,167.41L416.90,167.42L417.40,167.43L417.90,167.44L418.40,167.45L418.90,167.45L419.40,167.46L419.90,167.46L420.40,167.47L420.90,167.47L421.40,167.47L421.90,167.48L422.40,167.48L422.90,167.47L423.40,167.47L423.90,167.46L424.40,167.45L424.90,167.43L425.40,167.41L425.90,167.39L426.40,167.37L426.90,167.34L427.40,167.30L427.90,167.27L428.40,167.23L428.90,167.19L429.40,167.15L429.90,167.10L430.40,167.05L430.90,167.00L431.40,166.94L431.90,166.88L432.40,166.83L432.90,166.76L433.40,166.70L433.90,166.63L434.40,166.56L434.90,166.49L435.40,166.42L435.90,166.34L436.40,166.27L436.90,166.19L437.40,166.11L437.90,166.03L438.40,165.94L438.90,165.86L439.40,165.77L439.90,165.68L440.40,165.60L440.90,165.51L441.40,165.41L441.90,165.32L442.40,165.23L442.90,165.13L443.40,165.04L443.90,164.94L444.40,164.85L444.90,164.75L445.40,164.65L445.90,164.55L446.40,164.45L446.90,164.35L447.40,164.26L447.90,164.16L448.40,164.06L448.90,163.96L449.40,163.86L449.90,163.76L450.40,163.66L450.90,163.56L451.40,163.46L451.90,163.36L452.40,163.26L452.90,163.17L453.40,163.07L453.90,162.97L454.40,162.88L454.90,162.78L455.40,162.68L455.90,162.58L456.40,162.47L456.90,162.36L457.40,162.25L457.90,162.13L458.40,162.01L458.90,161.88L459.40,161.75L459.90,161.62L460.40,161.49L460.90,161.35L461.40,161.21L461.90,161.07L462.40,160.92L462.90,160.77L463.40,160.62L463.90,160.47L464.40,160.32L464.90,160.16L465.40,160.00L465.90,159.84L466.40,159.68L466.90,159.52L467.40,159.36L467.90,159.19L468.40,159.03L468.90,158.86L469.40,158.70L469.90,158.53L470.40,158.36L470.90,158.20L471.40,158.03L471.90,157.86L472.40,157.69L472.90,157.53L473.40,157.36L473.90,157.20L474.40,157.03L474.90,156.87L475.40,156.70L475.90,156.54L476.40,156.38L476.90,156.22L477.40,156.06L477.90,155.91L478.40,155.75L478.90,155.60L479.40,155.45L479.90,155.30L480.40,155.16L480.90,155.01L481.40,154.87L481.90,154.74L482.40,154.60L482.90,154.47L483.40,154.34L483.90,154.22L484.40,154.09L484.90,153.97L485.40,153.86L485.90,153.75L486.40,153.64L486.90,153.54L487.40,153.44L487.90,153.35L488.40,153.26L488.90,153.17L489.40,153.09L489.90,153.01L490.40,152.94L490.90,152.87L491.40,152.80L491.90,152.74L492.40,152.67L492.90,152.60L493.40,152.54L493.90,152.48L494.40,152.41L494.90,152.35L495.40,152.29L495.90,152.23L496.40,152.17L496.90,152.12L497.40,152.06L497.90,152.01L498.40,151.95L498.90,151.90L499.40,151.85L499.90,151.79L500.40,151.74L500.90,151.69L501.40,151.64L501.90,151.59L502.40,151.55L502.90,151.50L503.40,151.45L503.90,151.40L504.40,151.36L504.90,151.31L505.40,151.27L505.90,151.22L506.40,151.18L506.90,151.14L507.40,151.09L507.90,151.05L508.40,151.01L508.90,150.97L509.40,150.93L509.90,150.88L510.40,150.84L510.90,150.80L511.40,150.76L511.90,150.72L512.40,150.68L512.90,150.64L513.40,150.60L513.90,150.56L514.40,150.52L514.90,150.48L515.40,150.44L515.90,150.40L516.40,150.36L516.90,150.32L517.40,150.28L517.90,150.24L518.40,150.20L518.90,150.15L519.40,150.11L519.90,150.07L520.40,150.03L520.90,149.99L521.40,149.94L521.90,149.90L522.40,149.86L522.90,149.81L523.40,149.77L523.90,149.72L524.40,149.68L524.90,149.63L525.40,149.59L525.90,149.54L526.40,149.49L526.90,149.44L527.40,149.39L527.90,149.35L528.40,149.29L528.90,149.24L529.40,149.19L529.90,149.14L530.40,149.09L530.90,149.03L531.40,148.98L531.90,148.93L532.40,148.87L532.90,148.82L533.40,148.76L533.90,148.71L534.40,148.66L534.90,148.60L535.40,148.55L535.90,148.49L536.40,148.44L536.90,148.38L537.40,148.33L537.90,148.28L538.40,148.22L538.90,148.17L539.40,148.12L539.90,148.07L540.40,148.01L540.90,147.96L541.40,147.91L541.90,147.86L542.40,147.80L542.90,147.75L543.40,147.70L543.90,147.64L544.40,147.59L544.90,147.54L545.40,147.48L545.90,147.43L546.40,147.37L546.90,147.32L547.40,147.27L547.90,147.21L548.40,147.16L548.90,147.10L549.40,147.05L549.90,147.00L550.40,146.94L550.90,146.89L551.40,146.84L551.90,146.78L552.40,146.73L552.90,146.68L553.40,146.63L553.90,146.57L554.40,146.52L554.90,146.47L555.40,146.42L555.90,146.37L556.40,146.32L556.90,146.27L557.40,146.22L557.90,146.17L558.40,146.12L558.90,146.07L559.40,146.02L559.90,145.97L560.40,145.92L560.90,145.87L561.40,145.82L561.90,145.77L562.40,145.72L562.90,145.67L563.40,145.61L563.90,145.56L564.40,145.51L564.90,145.45L565.40,145.40L565.90,145.34L566.40,145.28L566.90,145.22L567.40,145.16L567.90,145.10L568.40,145.04L568.90,144.97L569.40,144.91L569.90,144.84L570.40,144.77L570.90,144.70L571.40,144.62L571.90,144.55L572.40,144.47L572.90,144.39L573.40,144.31L573.90,144.22L574.40,144.13L574.90,144.04L575.40,143.95L575.90,143.85L576.40,143.74L576.90,143.64L577.40,143.53L577.90,143.41L578.40,143.29L578.90,143.16L579.40,143.03L579.90,142.89L580.40,142.75L580.90,142.60L581.40,142.44L581.90,142.27L582.40,142.09L582.90,141.91L583.40,141.72L583.90,141.51L584.40,141.30L584.90,141.07L585.40,140.83L585.90,140.58L586.40,140.31L586.90,140.03L587.40,139.74L587.90,139.43L588.40,139.09L588.90,138.74L589.40,138.37L589.90,137.98L590.40,137.57L590.90,137.13L591.40,136.66L591.90,136.17L592.40,135.64L592.90,135.09L593.40,134.50L593.90,133.88L594.40,133.21L594.90,132.51L595.40,131.76L595.90,130.97L596.40,130.13L596.90,129.24L597.40,128.29L597.90,127.28L598.40,126.21L598.90,125.07L599.40,123.86L599.90,122.57L600.40,121.20L600.90,119.75L601.40,118.20L601.90,116.56L602.40,114.81L602.90,112.95L603.40,110.97L603.90,108.87L604.40,106.63L604.90,104.26L605.40,101.73L605.90,99.03L606.40,96.17L606.90,93.12L607.40,89.88L607.90,86.43L608.40,82.76L608.50,82.00M608.50,82.00L608.20,82.76L607.70,84.00L607.20,85.19L606.70,86.35L606.20,87.48L605.70,88.56L605.20,89.61L604.70,90.63L604.20,91.61L603.70,92.55L603.20,93.47L602.70,94.35L602.20,95.20L601.70,96.02L601.20,96.81L600.70,97.57L600.20,98.30L599.70,99.01L599.20,99.69L598.70,100.34L598.20,100.97L597.70,101.57L597.20,102.15L596.70,102.71L596.20,103.24L595.70,103.76L595.20,104.25L594.70,104.72L594.20,105.17L593.70,105.60L593.20,106.02L592.70,106.42L592.20,106.80L591.70,107.16L591.20,107.51L590.70,107.84L590.20,108.15L589.70,108.46L589.20,108.75L588.70,109.02L588.20,109.28L587.70,109.54L587.20,109.77L586.70,110.00L586.20,110.22L585.70,110.43L585.20,110.62L584.70,110.81L584.20,110.99L583.70,111.16L583.20,111.32L582.70,111.47L582.20,111.61L581.70,111.75L581.20,111.88L580.70,112.01L580.20,112.12L579.70,112.23L579.20,112.34L578.70,112.44L578.20,112.53L577.70,112.62L577.20,112.71L576.70,112.79L576.20,112.86L575.70,112.94L575.20,113.00L574.70,113.07L574.20,113.13L573.70,113.19L573.20,113.24L572.70,113.29L572.20,113.34L571.70,113.38L571.20,113.43L570.70,113.47L570.20,113.50L569.70,113.54L569.20,113.57L568.70,113.60L568.20,113.63L567.70,113.66L567.20,113.69L566.70,113.71L566.20,113.74L565.70,113.76L565.20,113.78L564.70,113.80L564.20,113.82L563.70,113.83L563.20,113.85L562.70,113.87L562.20,113.88L561.70,113.89L561.20,113.91L560.70,113.92L560.20,113.93L559.70,113.94L559.20,113.95L558.70,113.96L558.20,113.97L557.70,113.98L557.20,113.99L556.70,114.00L556.20,114.01L555.70,114.02L555.20,114.03L554.70,114.04L554.20,114.05L553.70,114.06L553.20,114.07L552.70,114.08L552.20,114.09L551.70,114.10L551.20,114.11L550.70,114.12L550.20,114.14L549.70,114.15L549.20,114.16L548.70,114.17L548.20,114.18L547.70,114.19L547.20,114.20L546.70,114.21L546.20,114.22L545.70,114.23L545.20,114.25L544.70,114.26L544.20,114.27L543.70,114.28L543.20,114.29L542.70,114.30L542.20,114.31L541.70,114.33L541.20,114.34L540.70,114.35L540.20,114.36L539.70,114.37L539.20,114.38L538.70,114.40L538.20,114.41L537.70,114.42L537.20,114.43L536.70,114.44L536.20,114.45L535.70,114.46L535.20,114.47L534.70,114.49L534.20,114.50L533.70,114.51L533.20,114.52L532.70,114.53L532.20,114.54L531.70,114.55L531.20,114.56L530.70,114.57L530.20,114.58L529.70,114.58L529.20,114.59L528.70,114.60L528.20,114.61L527.70,114.62L527.20,114.63L526.70,114.63L526.20,114.64L525.70,114.65L525.20,114.65L524.70,114.66L524.20,114.67L523.70,114.67L523.20,114.68L522.70,114.68L522.20,114.69L521.70,114.69L521.20,114.69L520.70,114.70L520.20,114.70L519.70,114.70L519.20,114.70L518.70,114.71L518.20,114.71L517.70,114.71L517.20,114.71L516.70,114.71L516.20,114.72L515.70,114.72L515.20,114.72L514.70,114.72L514.20,114.72L513.70,114.73L513.20,114.73L512.70,114.73L512.20,114.73L511.70,114.73L511.20,114.74L510.70,114.74L510.20,114.74L509.70,114.74L509.20,114.74L508.70,114.74L508.20,114.75L507.70,114.75L507.20,114.75L506.70,114.75L506.20,114.75L505.70,114.75L505.20,114.76L504.70,114.76L504.20,114.76L503.70,114.76L503.20,114.76L502.70,114.76L502.20,114.76L501.70,114.77L501.20,114.77L500.70,114.77L500.20,114.77L499.70,114.77L499.20,114.77L498.70,114.77L498.20,114.77L497.70,114.77L497.20,114.77L496.70,114.77L496.20,114.78L495.70,114.78L495.20,114.78L494.70,114.78L494.20,114.78L493.70,114.78L493.20,114.78L492.70,114.78L492.20,114.78L491.70,114.78L491.20,114.78L490.70,114.78L490.20,114.78L489.70,114.78L489.20,114.78L488.70,114.77L488.20,114.76L487.70,114.74L487.20,114.73L486.70,114.71L486.20,114.69L485.70,114.66L485.20,114.64L484.70,114.61L484.20,114.58L483.70,114.56L483.20,114.53L482.70,114.50L482.20,114.47L481.70,114.43L481.20,114.40L480.70,114.37L480.20,114.34L479.70,114.32L479.20,114.29L478.70,114.26L478.20,114.24L477.70,114.21L477.20,114.19L476.70,114.17L476.20,114.16L475.70,114.14L475.20,114.13L474.70,114.13L474.20,114.12L473.70,114.12L473.20,114.13L472.70,114.14L472.20,114.17L471.70,114.20L471.20,114.24L470.70,114.28L470.20,114.33L469.70,114.39L469.20,114.45L468.70,114.52L468.20,114.60L467.70,114.68L467.20,114.76L466.70,114.85L466.20,114.95L465.70,115.05L465.20,115.15L464.70,115.25L464.20,115.36L463.70,115.48L463.20,115.59L462.70,115.71L462.20,115.83L461.70,115.95L461.20,116.08L460.70,116.20L460.20,116.33L459.70,116.46L459.20,116.59L458.70,116.72L458.20,116.85L457.70,116.98L457.20,117.11L456.70,117.24L456.20,117.36L455.70,117.49L455.20,117.62L454.70,117.74L454.20,117.86L453.70,117.98L453.20,118.10L452.70,118.21L452.20,118.32L451.70,118.44L451.20,118.55L450.70,118.67L450.20,118.79L449.70,118.91L449.20,119.04L448.70,119.16L448.20,119.29L447.70,119.41L447.20,119.54L446.70,119.67L446.20,119.80L445.70,119.93L445.20,120.07L444.70,120.20L444.20,120.34L443.70,120.47L443.20,120.61L442.70,120.74L442.20,120.88L441.70,121.02L441.20,121.16L440.70,121.30L440.20,121.44L439.70,121.58L439.20,121.72L438.70,121.86L438.20,122.00L437.70,122.14L437.20,122.29L436.70,122.43L436.20,122.57L435.70,122.71L435.20,122.85L434.70,122.99L434.20,123.13L433.70,123.27L433.20,123.41L432.70,123.55L432.20,123.69L431.70,123.83L431.20,123.97L430.70,124.11L430.20,124.24L429.70,124.38L429.20,124.51L428.70,124.65L428.20,124.78L427.70,124.91L427.20,125.05L426.70,125.18L426.20,125.31L425.70,125.45L425.20,125.58L424.70,125.71L424.20,125.84L423.70,125.97L423.20,126.11L422.70,126.24L422.20,126.37L421.70,126.50L421.20,126.63L420.70,126.77L420.20,126.90L419.70,127.03L419.20,127.16L418.70,127.30L418.20,127.43L417.70,127.56L417.20,127.69L416.70,127.83L416.20,127.96L415.70,128.09L415.20,128.23L414.70,128.36L414.20,128.50L413.70,128.63L413.20,128.76L412.70,128.90L412.20,129.04L411.70,129.17L411.20,129.31L410.70,129.45L410.20,129.58L409.70,129.72L409.20,129.86L408.70,130.00L408.20,130.14L407.70,130.28L407.20,130.42L406.70,130.56L406.20,130.70L405.70,130.85L405.20,130.98L404.70,131.11L404.20,131.23L403.70,131.35L403.20,131.47L402.70,131.60L402.20,131.73L401.70,131.87L401.20,132.03L400.70,132.20L400.20,132.39L399.70,132.61L399.20,132.86L398.70,133.18L398.20,133.58L397.70,134.06L397.20,134.62L396.70,135.29L396.20,136.23L395.70,137.45L395.20,139.16L394.70,141.52" stroke="#8A5858" stroke-width="1.55" fill="none" stroke-linejoin="round" stroke-linecap="round"/>

<path d="M385.8,22.60H406.4" stroke="#555555" stroke-width="1.3"/>
<path d="M385.8,33.55H406.4" stroke="#F03C3C" stroke-width="1.3"/>
<path d="M385.8,44.50H406.4" stroke="#3070E0" stroke-width="1.3"/>
<path d="M385.8,55.45H406.4" stroke="#3CAF6A" stroke-width="1.3"/>
<path d="M385.8,66.40H406.4" stroke="#B878E8" stroke-width="1.3"/>
<path d="M385.8,77.35H406.4" stroke="#DCA21A" stroke-width="1.3"/>
<path d="M385.8,88.30H406.4" stroke="#28D0D0" stroke-width="1.3"/>
<path d="M385.8,99.25H406.4" stroke="#8A5858" stroke-width="1.3"/>
<g font-size="8.5" fill="#1a1a1a" stroke="#1a1a1a" stroke-width="0.15">
<text transform="translate(408.3,25.00) scale(1.03,1)">DOP</text>
<text transform="translate(408.3,35.95) scale(1.03,1)">FRU</text>
<text transform="translate(408.3,46.90) scale(1.03,1)">GLU</text>
<text transform="translate(408.3,57.85) scale(1.03,1)">LAC</text>
<text transform="translate(408.3,68.80) scale(1.03,1)">NO3-</text>
<text transform="translate(408.3,79.75) scale(1.03,1)">NO2-</text>
<text transform="translate(408.3,90.70) scale(1.03,1)">ASC</text>
<text transform="translate(408.3,101.65) scale(1.03,1)">URC</text>
</g>
</svg>
</body></html>
